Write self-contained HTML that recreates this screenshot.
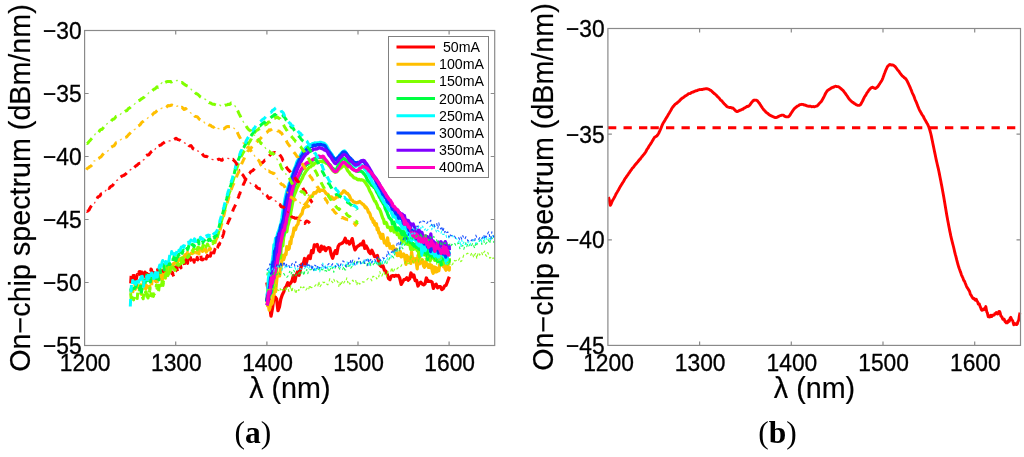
<!DOCTYPE html>
<html lang="en">
<head>
<meta charset="utf-8">
<title>On-chip spectrum</title>
<style>
html,body{margin:0;padding:0;background:#fff;}
body{width:1024px;height:457px;overflow:hidden;}
svg{display:block;}
</style>
</head>
<body>
<svg width="1024" height="457" viewBox="0 0 1024 457">
<defs>
<clipPath id="clipL"><rect x="84.6" y="30.5" width="410.1" height="315.0"/></clipPath>
<clipPath id="clipR"><rect x="607.9" y="28.5" width="413.6" height="316.9"/></clipPath>
</defs>
<rect width="1024" height="457" fill="#fff"/>
<g clip-path="url(#clipL)" fill="none" stroke-linejoin="round">
<path d="M266.8 282.4L268.2 290.2L269.6 303.9L271.0 316.1L272.4 308.7L273.8 298.2L275.2 297.0L276.6 299.0L278.0 310.7L279.4 306.9L280.8 299.1L282.2 295.0L283.6 292.1L285.0 288.1L286.4 286.2L287.8 282.7L289.2 285.2L290.6 282.9L292.0 281.0L293.4 275.7L294.8 281.5L296.2 274.8L297.6 271.6L299.0 275.2L300.4 270.0L301.8 264.1L303.2 264.2L304.6 258.5L306.0 264.1L307.4 258.9L308.8 255.9L310.2 258.6L311.6 250.6L313.0 252.6L314.4 244.8L315.8 245.9L317.2 244.4L318.6 250.2L320.0 251.5L321.4 246.1L322.8 249.0L324.2 247.1L325.6 250.6L327.0 248.4L328.4 247.6L329.8 248.0L331.2 254.4L332.6 258.2L334.0 253.8L335.4 250.6L336.8 253.6L338.2 246.3L339.6 244.2L341.0 243.7L342.4 243.0L343.8 241.6L345.2 238.3L346.6 242.7L348.0 241.2L349.4 244.1L350.8 241.9L352.2 238.6L353.6 245.1L355.0 249.9L356.4 247.6L357.8 246.1L359.2 245.4L360.6 243.9L362.0 244.7L363.4 241.1L364.8 248.4L366.2 246.0L367.6 248.5L369.0 252.2L370.4 253.6L371.8 250.3L373.2 253.3L374.6 256.5L376.0 256.7L377.4 255.5L378.8 262.8L380.2 265.5L381.6 266.6L383.0 266.0L384.4 270.3L385.8 271.2L387.2 274.3L388.6 278.6L390.0 279.5L391.4 276.0L392.8 275.6L394.2 276.3L395.6 275.3L397.0 275.9L398.4 275.5L399.8 278.3L401.2 284.4L402.6 282.0L404.0 279.6L405.4 279.4L406.8 277.8L408.2 280.2L409.6 278.8L411.0 273.0L412.4 276.7L413.8 275.0L415.2 280.6L416.6 280.4L418.0 286.0L419.4 283.1L420.8 282.3L422.2 284.1L423.6 284.8L425.0 283.8L426.4 278.0L427.8 281.4L429.2 281.1L430.6 281.3L432.0 281.9L433.4 288.4L434.8 285.0L436.2 284.3L437.6 287.8L439.0 286.6L440.4 286.7L441.8 289.5L443.2 288.6L444.6 286.0L446.0 285.3L447.4 281.9L448.8 278.0L449.4 276.7" stroke="#ff0000" stroke-width="3.3"/>
<path d="M266.8 298.0L267.6 305.8L268.4 305.2L269.2 310.1L270.0 307.6L270.8 301.7L271.6 304.1L272.4 302.6L273.2 295.5L274.0 294.3L274.8 285.8L275.6 291.6L276.4 283.3L277.2 275.4L278.0 273.2L278.8 275.7L279.6 275.9L280.4 268.6L281.2 266.6L282.0 258.6L282.8 255.5L283.6 259.7L284.4 257.3L285.2 253.9L286.0 254.5L286.8 246.7L287.6 247.2L288.4 249.4L289.2 248.5L290.0 241.6L290.8 243.7L291.6 236.9L292.4 236.9L293.2 233.4L294.0 228.2L294.8 230.1L295.6 229.4L296.4 226.2L297.2 225.0L298.0 224.0L298.8 218.4L299.6 216.6L300.4 215.8L301.2 214.1L302.0 214.0L302.8 209.9L303.6 208.0L304.4 207.2L305.2 207.3L306.0 204.1L306.8 202.4L307.6 201.5L308.4 200.1L309.2 198.6L310.0 197.5L310.8 196.1L311.6 196.1L312.4 196.0L313.2 194.1L314.0 192.6L314.8 192.9L315.6 193.1L316.4 192.1L317.2 190.9L318.0 190.0L318.8 190.8L319.6 191.2L320.4 190.2L321.2 190.1L322.0 190.2L322.8 190.4L323.6 190.3L324.4 191.0L325.2 192.1L326.0 193.4L326.8 194.0L327.6 194.1L328.4 195.4L329.2 196.8L330.0 197.1L330.8 196.8L331.6 196.9L332.4 197.7L333.2 198.9L334.0 199.3L334.8 198.6L335.6 198.1L336.4 196.7L337.2 196.4L338.0 197.0L338.8 196.1L339.6 194.8L340.4 194.5L341.2 193.7L342.0 193.0L342.8 192.3L343.6 190.9L344.4 191.0L345.2 191.7L346.0 192.8L346.8 193.4L347.6 193.5L348.4 194.6L349.2 195.4L350.0 197.1L350.8 199.7L351.6 200.0L352.4 200.3L353.2 201.6L354.0 202.1L354.8 202.1L355.6 202.7L356.4 202.8L357.2 202.5L358.0 202.5L358.8 202.1L359.6 201.4L360.4 202.4L361.2 202.9L362.0 203.6L362.8 204.5L363.6 204.6L364.4 205.9L365.2 207.7L366.0 207.0L366.8 208.4L367.6 209.5L368.4 212.2L369.2 212.5L370.0 214.0L370.8 217.2L371.6 219.0L372.4 218.8L373.2 222.3L374.0 220.9L374.8 224.8L375.6 225.5L376.4 223.7L377.2 229.9L378.0 228.0L378.8 233.1L379.6 232.6L380.4 236.7L381.2 238.2L382.0 234.3L382.8 234.3L383.6 239.2L384.4 243.0L385.2 241.1L386.0 241.8L386.8 245.5L387.6 238.0L388.4 244.8L389.2 243.5L390.0 248.2L390.8 247.2L391.6 246.8L392.4 249.0L393.2 246.2L394.0 251.3L394.8 249.2L395.6 249.1L396.4 249.2L397.2 255.6L398.0 253.7L398.8 255.2L399.6 254.8L400.4 251.7L401.2 256.9L402.0 256.2L402.8 255.8L403.6 254.0L404.4 255.1L405.2 259.8L406.0 264.3L406.8 255.5L407.6 259.2L408.4 257.0L409.2 261.1L410.0 260.5L410.8 263.4L411.6 251.9L412.4 258.2L413.2 258.2L414.0 261.8L414.8 259.6L415.6 258.7L416.4 263.2L417.2 268.8L418.0 255.4L418.8 262.5L419.6 263.8L420.4 263.1L421.2 262.9L422.0 259.7L422.8 260.6L423.6 265.9L424.4 267.3L425.2 264.2L426.0 261.7L426.8 265.2L427.6 264.2L428.4 267.4L429.2 267.3L430.0 264.7L430.8 267.7L431.6 265.2L432.4 271.3L433.2 273.3L434.0 266.9L434.8 271.9L435.6 267.3L436.4 271.9L437.2 271.4L438.0 268.3L438.8 270.7L439.6 265.0L440.4 263.3L441.2 262.5L442.0 264.2L442.8 265.4L443.6 266.8L444.4 264.2L445.2 268.9L446.0 270.2L446.8 266.9L447.6 263.2L448.4 268.5L449.2 270.1L449.4 266.1" stroke="#ffbf00" stroke-width="3.3"/>
<path d="M266.8 300.2L267.6 295.6L268.4 301.4L269.2 294.2L270.0 296.6L270.8 293.1L271.6 285.3L272.4 282.7L273.2 284.0L274.0 278.8L274.8 275.6L275.6 266.8L276.4 271.1L277.2 262.6L278.0 255.5L278.8 256.8L279.6 256.5L280.4 258.1L281.2 247.6L282.0 241.6L282.8 245.9L283.6 237.8L284.4 234.2L285.2 230.6L286.0 229.4L286.8 231.8L287.6 226.6L288.4 223.8L289.2 220.5L290.0 219.0L290.8 212.3L291.6 208.3L292.4 203.7L293.2 199.5L294.0 196.0L294.8 193.8L295.6 191.8L296.4 189.7L297.2 187.8L298.0 186.3L298.8 184.6L299.6 182.9L300.4 181.6L301.2 179.9L302.0 178.8L302.8 177.0L303.6 175.0L304.4 173.9L305.2 172.5L306.0 171.1L306.8 170.2L307.6 169.4L308.4 168.3L309.2 167.3L310.0 167.0L310.8 166.8L311.6 165.6L312.4 165.0L313.2 165.1L314.0 164.1L314.8 163.1L315.6 163.0L316.4 162.8L317.2 162.3L318.0 162.3L318.8 161.8L319.6 161.4L320.4 161.4L321.2 161.4L322.0 161.6L322.8 161.8L323.6 161.6L324.4 161.4L325.2 162.3L326.0 163.1L326.8 163.3L327.6 163.7L328.4 164.6L329.2 165.7L330.0 166.6L330.8 167.7L331.6 168.8L332.4 170.2L333.2 170.8L334.0 171.3L334.8 172.1L335.6 172.3L336.4 172.0L337.2 171.5L338.0 170.5L338.8 169.7L339.6 168.8L340.4 168.1L341.2 167.9L342.0 166.8L342.8 166.1L343.6 166.0L344.4 165.8L345.2 166.2L346.0 167.3L346.8 168.8L347.6 170.5L348.4 171.5L349.2 172.4L350.0 173.7L350.8 174.9L351.6 175.1L352.4 175.9L353.2 177.0L354.0 177.7L354.8 178.1L355.6 178.1L356.4 178.6L357.2 179.5L358.0 179.8L358.8 179.3L359.6 179.7L360.4 180.0L361.2 179.7L362.0 180.0L362.8 180.1L363.6 180.6L364.4 181.4L365.2 182.4L366.0 183.6L366.8 184.9L367.6 185.9L368.4 187.4L369.2 189.5L370.0 191.3L370.8 192.6L371.6 194.2L372.4 196.0L373.2 197.8L374.0 199.7L374.8 201.2L375.6 201.6L376.4 203.6L377.2 205.0L378.0 208.1L378.8 208.4L379.6 209.3L380.4 211.1L381.2 213.6L382.0 216.0L382.8 218.3L383.6 219.4L384.4 223.3L385.2 223.0L386.0 222.4L386.8 223.8L387.6 227.2L388.4 226.9L389.2 227.4L390.0 228.4L390.8 230.7L391.6 227.1L392.4 228.4L393.2 227.3L394.0 232.1L394.8 230.8L395.6 230.7L396.4 231.4L397.2 234.6L398.0 233.9L398.8 233.8L399.6 237.9L400.4 234.1L401.2 234.5L402.0 243.4L402.8 238.2L403.6 238.3L404.4 238.1L405.2 239.9L406.0 242.8L406.8 244.0L407.6 244.3L408.4 242.7L409.2 240.0L410.0 245.5L410.8 249.3L411.6 248.9L412.4 246.2L413.2 249.4L414.0 247.4L414.8 248.7L415.6 245.7L416.4 248.6L417.2 250.6L418.0 250.4L418.8 253.5L419.6 257.0L420.4 256.0L421.2 252.1L422.0 250.7L422.8 250.7L423.6 250.1L424.4 253.6L425.2 255.0L426.0 254.8L426.8 255.6L427.6 255.5L428.4 254.7L429.2 253.2L430.0 261.0L430.8 259.2L431.6 253.4L432.4 253.7L433.2 254.6L434.0 256.8L434.8 260.3L435.6 259.4L436.4 260.1L437.2 260.7L438.0 260.9L438.8 260.2L439.6 259.5L440.4 258.0L441.2 253.8L442.0 258.3L442.8 264.3L443.6 257.9L444.4 257.9L445.2 262.0L446.0 259.4L446.8 258.4L447.6 264.1L448.4 261.5L449.2 262.1L449.4 258.1" stroke="#80ff00" stroke-width="3.3"/>
<path d="M266.8 300.5L267.6 301.9L268.4 294.2L269.2 295.0L270.0 289.7L270.8 288.6L271.6 292.3L272.4 284.6L273.2 278.8L274.0 277.6L274.8 271.8L275.6 271.2L276.4 268.9L277.2 265.6L278.0 261.7L278.8 255.7L279.6 253.9L280.4 250.1L281.2 240.7L282.0 238.7L282.8 236.2L283.6 235.2L284.4 231.8L285.2 226.6L286.0 224.9L286.8 219.0L287.6 216.0L288.4 213.3L289.2 209.6L290.0 205.4L290.8 200.7L291.6 196.8L292.4 193.1L293.2 190.1L294.0 187.7L294.8 185.4L295.6 183.7L296.4 182.1L297.2 180.4L298.0 178.5L298.8 176.5L299.6 175.2L300.4 173.5L301.2 171.3L302.0 169.8L302.8 168.7L303.6 167.9L304.4 167.1L305.2 166.2L306.0 164.9L306.8 164.3L307.6 164.3L308.4 163.7L309.2 162.9L310.0 162.4L310.8 162.3L311.6 161.6L312.4 160.4L313.2 159.8L314.0 159.5L314.8 158.8L315.6 158.5L316.4 158.3L317.2 157.8L318.0 157.7L318.8 157.2L319.6 157.4L320.4 157.2L321.2 156.8L322.0 157.3L322.8 158.1L323.6 158.6L324.4 158.9L325.2 159.9L326.0 161.1L326.8 162.2L327.6 162.9L328.4 163.5L329.2 164.3L330.0 164.9L330.8 166.0L331.6 167.4L332.4 168.1L333.2 168.6L334.0 169.2L334.8 170.0L335.6 170.0L336.4 169.1L337.2 167.7L338.0 166.1L338.8 164.6L339.6 162.8L340.4 161.8L341.2 161.1L342.0 159.4L342.8 158.3L343.6 158.5L344.4 158.8L345.2 159.6L346.0 160.2L346.8 161.2L347.6 162.8L348.4 163.3L349.2 163.9L350.0 165.4L350.8 166.3L351.6 166.8L352.4 167.5L353.2 168.5L354.0 169.5L354.8 170.4L355.6 170.6L356.4 171.0L357.2 171.3L358.0 171.3L358.8 171.2L359.6 170.8L360.4 171.0L361.2 171.4L362.0 171.7L362.8 172.5L363.6 173.5L364.4 174.3L365.2 175.3L366.0 176.7L366.8 178.5L367.6 180.3L368.4 181.2L369.2 181.9L370.0 182.8L370.8 183.9L371.6 185.3L372.4 185.5L373.2 186.2L374.0 187.5L374.8 187.8L375.6 189.2L376.4 191.1L377.2 192.6L378.0 193.8L378.8 195.6L379.6 197.3L380.4 198.2L381.2 200.3L382.0 201.4L382.8 202.8L383.6 204.2L384.4 205.0L385.2 208.3L386.0 210.2L386.8 211.6L387.6 213.8L388.4 215.8L389.2 218.0L390.0 218.3L390.8 219.5L391.6 220.0L392.4 223.9L393.2 222.5L394.0 222.2L394.8 225.3L395.6 227.7L396.4 229.8L397.2 230.1L398.0 227.9L398.8 228.9L399.6 230.7L400.4 229.4L401.2 232.3L402.0 234.5L402.8 234.5L403.6 231.5L404.4 232.6L405.2 239.1L406.0 235.1L406.8 239.6L407.6 240.7L408.4 239.4L409.2 238.6L410.0 242.2L410.8 240.5L411.6 242.8L412.4 244.2L413.2 243.7L414.0 246.0L414.8 246.1L415.6 244.3L416.4 247.4L417.2 246.8L418.0 244.2L418.8 248.9L419.6 249.3L420.4 248.1L421.2 244.4L422.0 253.4L422.8 254.2L423.6 254.5L424.4 253.1L425.2 248.6L426.0 252.9L426.8 250.2L427.6 259.6L428.4 251.6L429.2 255.7L430.0 249.8L430.8 251.0L431.6 253.2L432.4 257.7L433.2 257.4L434.0 256.3L434.8 250.3L435.6 259.1L436.4 253.1L437.2 261.1L438.0 261.7L438.8 258.9L439.6 260.1L440.4 253.3L441.2 264.8L442.0 258.1L442.8 260.1L443.6 254.7L444.4 257.3L445.2 253.5L446.0 256.5L446.8 257.5L447.6 258.6L448.4 262.1L449.2 259.6L449.4 259.1" stroke="#00ff40" stroke-width="3.3"/>
<path d="M266.8 295.9L267.6 292.7L268.4 279.6L269.2 273.8L270.0 273.0L270.8 272.2L271.6 265.7L272.4 260.5L273.2 255.0L274.0 244.7L274.8 245.9L275.6 238.4L276.4 240.9L277.2 235.7L278.0 232.4L278.8 230.6L279.6 227.9L280.4 225.1L281.2 222.4L282.0 217.7L282.8 212.1L283.6 207.9L284.4 203.0L285.2 198.4L286.0 194.8L286.8 191.5L287.6 188.7L288.4 186.2L289.2 183.6L290.0 181.9L290.8 179.6L291.6 176.8L292.4 174.7L293.2 172.3L294.0 169.9L294.8 168.0L295.6 166.4L296.4 163.6L297.2 161.4L298.0 160.2L298.8 158.3L299.6 157.0L300.4 155.5L301.2 154.0L302.0 152.8L302.8 151.4L303.6 150.6L304.4 149.6L305.2 148.6L306.0 147.7L306.8 146.9L307.6 146.6L308.4 146.4L309.2 145.5L310.0 144.6L310.8 145.0L311.6 144.8L312.4 143.7L313.2 143.6L314.0 143.4L314.8 142.9L315.6 143.1L316.4 143.3L317.2 142.9L318.0 142.9L318.8 142.8L319.6 142.5L320.4 142.5L321.2 142.5L322.0 142.8L322.8 143.1L323.6 143.2L324.4 143.6L325.2 144.4L326.0 145.1L326.8 146.3L327.6 147.9L328.4 149.3L329.2 150.6L330.0 152.2L330.8 153.1L331.6 154.0L332.4 155.2L333.2 156.7L334.0 158.2L334.8 159.3L335.6 159.0L336.4 158.6L337.2 158.5L338.0 157.9L338.8 156.7L339.6 155.3L340.4 154.2L341.2 153.2L342.0 152.5L342.8 151.7L343.6 151.3L344.4 150.9L345.2 151.5L346.0 153.1L346.8 154.8L347.6 156.4L348.4 158.0L349.2 159.5L350.0 160.1L350.8 160.9L351.6 162.2L352.4 163.1L353.2 164.3L354.0 165.2L354.8 165.9L355.6 166.5L356.4 166.1L357.2 165.4L358.0 165.0L358.8 164.9L359.6 165.1L360.4 165.0L361.2 165.2L362.0 165.5L362.8 166.2L363.6 167.4L364.4 168.7L365.2 169.7L366.0 170.4L366.8 171.5L367.6 173.2L368.4 174.7L369.2 175.8L370.0 177.4L370.8 178.9L371.6 180.6L372.4 182.6L373.2 183.8L374.0 184.8L374.8 185.9L375.6 187.2L376.4 188.8L377.2 189.9L378.0 191.0L378.8 193.0L379.6 194.4L380.4 195.1L381.2 196.7L382.0 198.4L382.8 200.0L383.6 201.5L384.4 203.0L385.2 203.2L386.0 205.3L386.8 205.9L387.6 207.3L388.4 209.0L389.2 209.7L390.0 210.6L390.8 210.8L391.6 213.0L392.4 214.9L393.2 216.9L394.0 215.5L394.8 215.8L395.6 217.8L396.4 218.2L397.2 221.8L398.0 220.1L398.8 222.7L399.6 221.8L400.4 223.9L401.2 225.4L402.0 228.1L402.8 225.9L403.6 228.5L404.4 225.2L405.2 227.3L406.0 228.2L406.8 229.7L407.6 232.7L408.4 234.1L409.2 231.0L410.0 236.6L410.8 234.0L411.6 240.7L412.4 238.4L413.2 238.8L414.0 238.8L414.8 239.7L415.6 240.4L416.4 239.7L417.2 244.2L418.0 243.9L418.8 245.7L419.6 244.0L420.4 246.1L421.2 243.5L422.0 255.1L422.8 244.3L423.6 245.0L424.4 249.0L425.2 250.5L426.0 246.5L426.8 244.7L427.6 245.0L428.4 246.4L429.2 247.5L430.0 249.5L430.8 253.1L431.6 253.3L432.4 248.8L433.2 252.8L434.0 254.2L434.8 256.1L435.6 251.6L436.4 250.1L437.2 254.9L438.0 257.2L438.8 251.8L439.6 259.2L440.4 258.6L441.2 253.2L442.0 249.7L442.8 252.8L443.6 253.9L444.4 256.7L445.2 249.9L446.0 262.8L446.8 262.8L447.6 253.4L448.4 249.9L449.2 254.6L449.4 256.4" stroke="#00ffff" stroke-width="3.3"/>
<path d="M266.6 301.4L267.4 296.2L268.2 294.7L269.0 290.4L269.8 285.5L270.6 278.2L271.4 274.3L272.2 268.7L273.0 262.0L273.8 263.8L274.6 251.1L275.4 250.0L276.2 246.5L277.0 237.3L277.8 239.9L278.6 234.0L279.4 232.4L280.2 228.9L281.0 224.8L281.8 224.6L282.6 221.4L283.4 218.7L284.2 212.4L285.0 205.1L285.8 201.2L286.6 197.3L287.4 193.8L288.2 190.7L289.0 188.0L289.8 185.3L290.6 182.3L291.4 179.9L292.2 177.8L293.0 175.3L293.8 172.7L294.6 170.4L295.4 168.6L296.2 167.0L297.0 165.2L297.8 163.1L298.6 161.3L299.4 159.5L300.2 157.9L301.0 156.9L301.8 155.8L302.6 154.6L303.4 153.1L304.2 151.9L305.0 150.9L305.8 150.2L306.6 149.6L307.4 148.4L308.2 147.8L309.0 147.7L309.8 146.8L310.6 146.0L311.4 146.3L312.2 146.3L313.0 145.8L313.8 145.1L314.6 145.2L315.4 145.6L316.2 145.3L317.0 144.7L317.8 144.6L318.6 145.0L319.4 144.8L320.2 144.5L321.0 144.6L321.8 144.9L322.6 145.1L323.4 145.2L324.2 145.4L325.0 145.7L325.8 147.1L326.6 148.8L327.4 149.9L328.2 151.0L329.0 151.8L329.8 152.6L330.6 153.9L331.4 155.0L332.2 156.5L333.0 157.5L333.8 158.0L334.6 158.9L335.4 159.3L336.2 159.4L337.0 158.5L337.8 157.6L338.6 157.2L339.4 156.0L340.2 155.3L341.0 154.9L341.8 153.7L342.6 152.5L343.4 152.1L344.2 152.0L345.0 152.3L345.8 152.8L346.6 153.9L347.4 154.9L348.2 156.0L349.0 157.2L349.8 157.7L350.6 158.4L351.4 159.4L352.2 160.1L353.0 161.1L353.8 161.9L354.6 162.4L355.4 162.6L356.2 163.0L357.0 163.0L357.8 162.3L358.6 162.5L359.4 162.5L360.2 161.8L361.0 161.0L361.8 161.1L362.6 161.4L363.4 161.7L364.2 162.1L365.0 163.1L365.8 164.8L366.6 165.4L367.4 166.2L368.2 167.8L369.0 169.5L369.8 170.6L370.6 171.8L371.4 173.6L372.2 174.8L373.0 176.4L373.8 177.5L374.6 178.5L375.4 180.1L376.2 182.0L377.0 183.5L377.8 184.6L378.6 186.2L379.4 187.6L380.2 188.8L381.0 190.2L381.8 191.8L382.6 193.9L383.4 194.9L384.2 195.7L385.0 197.3L385.8 198.1L386.6 199.8L387.4 201.8L388.2 202.5L389.0 203.6L389.8 203.9L390.6 205.2L391.4 206.9L392.2 209.0L393.0 209.5L393.8 208.8L394.6 211.2L395.4 213.0L396.2 214.0L397.0 213.1L397.8 214.9L398.6 218.2L399.4 215.9L400.2 218.3L401.0 218.3L401.8 218.4L402.6 220.5L403.4 223.2L404.2 223.9L405.0 222.2L405.8 223.9L406.6 224.1L407.4 223.1L408.2 228.1L409.0 230.4L409.8 230.7L410.6 228.1L411.4 232.6L412.2 233.0L413.0 230.7L413.8 232.2L414.6 232.8L415.4 235.2L416.2 238.9L417.0 234.2L417.8 234.6L418.6 239.7L419.4 238.7L420.2 234.7L421.0 237.0L421.8 238.1L422.6 239.2L423.4 242.0L424.2 244.0L425.0 242.0L425.8 243.3L426.6 241.7L427.4 246.5L428.2 247.7L429.0 244.4L429.8 244.0L430.6 251.6L431.4 249.1L432.2 244.6L433.0 242.9L433.8 247.0L434.6 250.9L435.4 246.4L436.2 248.3L437.0 248.3L437.8 250.8L438.6 253.1L439.4 246.9L440.2 249.6L441.0 250.6L441.8 250.3L442.6 248.6L443.4 254.2L444.2 252.5L445.0 254.6L445.8 257.1L446.6 251.6L447.4 254.3L448.2 252.0L449.0 253.1L449.4 254.1" stroke="#0040ff" stroke-width="3.3"/>
<path d="M266.8 305.3L267.6 303.2L268.4 299.7L269.2 290.7L270.0 294.0L270.8 290.2L271.6 279.4L272.4 278.9L273.2 271.8L274.0 267.9L274.8 267.5L275.6 261.8L276.4 261.1L277.2 250.6L278.0 243.7L278.8 242.9L279.6 233.3L280.4 238.4L281.2 232.9L282.0 230.6L282.8 227.4L283.6 223.4L284.4 221.5L285.2 217.0L286.0 212.5L286.8 207.7L287.6 201.8L288.4 198.7L289.2 194.9L290.0 191.4L290.8 188.2L291.6 185.6L292.4 182.9L293.2 180.4L294.0 177.9L294.8 175.6L295.6 174.0L296.4 172.2L297.2 169.6L298.0 167.7L298.8 166.3L299.6 164.3L300.4 162.7L301.2 161.3L302.0 159.7L302.8 158.6L303.6 157.2L304.4 156.2L305.2 155.3L306.0 154.2L306.8 153.8L307.6 153.3L308.4 152.3L309.2 151.7L310.0 151.3L310.8 150.6L311.6 150.3L312.4 150.3L313.2 149.5L314.0 149.0L314.8 149.2L315.6 148.9L316.4 149.0L317.2 148.8L318.0 148.3L318.8 147.8L319.6 147.7L320.4 148.2L321.2 148.3L322.0 148.6L322.8 148.6L323.6 149.4L324.4 150.1L325.2 150.0L326.0 150.7L326.8 151.2L327.6 152.1L328.4 154.1L329.2 155.3L330.0 156.2L330.8 157.2L331.6 158.5L332.4 160.0L333.2 161.0L334.0 162.2L334.8 163.3L335.6 163.6L336.4 162.6L337.2 161.8L338.0 161.3L338.8 159.8L339.6 158.3L340.4 157.6L341.2 157.0L342.0 156.1L342.8 155.2L343.6 154.7L344.4 154.7L345.2 154.8L346.0 155.6L346.8 156.5L347.6 157.2L348.4 158.4L349.2 159.9L350.0 161.2L350.8 161.3L351.6 161.4L352.4 162.5L353.2 163.4L354.0 164.0L354.8 164.5L355.6 165.2L356.4 165.0L357.2 164.5L358.0 164.4L358.8 163.9L359.6 162.4L360.4 162.1L361.2 161.7L362.0 160.7L362.8 160.5L363.6 160.4L364.4 160.8L365.2 162.0L366.0 163.1L366.8 164.0L367.6 165.3L368.4 166.8L369.2 167.8L370.0 169.2L370.8 170.7L371.6 172.0L372.4 173.7L373.2 174.9L374.0 176.0L374.8 177.1L375.6 178.1L376.4 179.1L377.2 180.5L378.0 182.1L378.8 182.9L379.6 184.3L380.4 186.5L381.2 187.8L382.0 189.0L382.8 190.2L383.6 191.0L384.4 192.3L385.2 193.7L386.0 194.8L386.8 196.4L387.6 197.7L388.4 198.9L389.2 200.3L390.0 200.7L390.8 202.9L391.6 205.3L392.4 205.0L393.2 206.4L394.0 207.3L394.8 209.7L395.6 209.3L396.4 209.1L397.2 210.1L398.0 211.1L398.8 212.0L399.6 212.4L400.4 215.2L401.2 214.2L402.0 213.9L402.8 214.7L403.6 217.4L404.4 215.6L405.2 219.3L406.0 219.9L406.8 221.4L407.6 220.3L408.4 220.5L409.2 222.7L410.0 223.2L410.8 225.5L411.6 224.3L412.4 224.3L413.2 224.0L414.0 226.4L414.8 227.7L415.6 230.9L416.4 229.7L417.2 232.2L418.0 232.7L418.8 230.1L419.6 230.7L420.4 232.3L421.2 233.3L422.0 232.6L422.8 236.3L423.6 237.3L424.4 238.8L425.2 237.3L426.0 236.3L426.8 238.8L427.6 236.8L428.4 239.5L429.2 237.7L430.0 242.3L430.8 233.9L431.6 242.0L432.4 242.6L433.2 241.0L434.0 242.4L434.8 242.6L435.6 245.7L436.4 247.1L437.2 243.5L438.0 247.4L438.8 242.1L439.6 244.7L440.4 245.4L441.2 241.8L442.0 245.6L442.8 244.0L443.6 247.9L444.4 243.4L445.2 241.6L446.0 243.2L446.8 246.9L447.6 248.2L448.4 248.7L449.2 246.0L449.4 250.2" stroke="#8000ff" stroke-width="3.3"/>
<path d="M266.8 305.0L267.6 303.5L268.4 292.0L269.2 293.7L270.0 291.7L270.8 282.7L271.6 276.5L272.4 283.3L273.2 276.9L274.0 278.4L274.8 273.4L275.6 270.0L276.4 265.6L277.2 263.7L278.0 257.0L278.8 254.2L279.6 252.8L280.4 244.2L281.2 241.4L282.0 236.8L282.8 233.2L283.6 229.9L284.4 230.3L285.2 224.6L286.0 223.5L286.8 217.5L287.6 215.2L288.4 210.7L289.2 206.5L290.0 202.1L290.8 197.7L291.6 193.3L292.4 190.3L293.2 187.4L294.0 184.6L294.8 182.8L295.6 181.4L296.4 179.4L297.2 177.5L298.0 176.1L298.8 174.7L299.6 172.9L300.4 171.0L301.2 169.5L302.0 168.3L302.8 167.4L303.6 166.1L304.4 165.2L305.2 164.3L306.0 163.5L306.8 163.0L307.6 162.3L308.4 162.2L309.2 162.3L310.0 161.6L310.8 160.6L311.6 160.0L312.4 159.7L313.2 159.3L314.0 158.9L314.8 158.8L315.6 158.3L316.4 157.5L317.2 157.2L318.0 156.9L318.8 156.0L319.6 156.3L320.4 157.0L321.2 157.0L322.0 156.7L322.8 156.1L323.6 156.6L324.4 158.2L325.2 159.1L326.0 160.2L326.8 161.1L327.6 162.0L328.4 163.4L329.2 164.5L330.0 165.3L330.8 166.4L331.6 167.9L332.4 169.2L333.2 170.1L334.0 171.1L334.8 171.7L335.6 171.7L336.4 171.4L337.2 170.5L338.0 169.2L338.8 168.0L339.6 167.0L340.4 165.5L341.2 164.2L342.0 163.6L342.8 162.5L343.6 162.2L344.4 162.5L345.2 163.0L346.0 164.0L346.8 164.7L347.6 165.5L348.4 166.5L349.2 166.4L350.0 166.2L350.8 167.5L351.6 168.5L352.4 169.1L353.2 169.6L354.0 170.1L354.8 170.5L355.6 170.8L356.4 171.1L357.2 170.5L358.0 170.0L358.8 169.7L359.6 168.3L360.4 167.9L361.2 167.9L362.0 167.1L362.8 166.2L363.6 166.7L364.4 166.9L365.2 167.1L366.0 168.0L366.8 168.1L367.6 168.8L368.4 170.1L369.2 171.1L370.0 171.8L370.8 172.4L371.6 173.5L372.4 174.3L373.2 175.6L374.0 176.9L374.8 177.9L375.6 178.9L376.4 179.9L377.2 180.8L378.0 181.6L378.8 183.3L379.6 184.7L380.4 185.7L381.2 187.0L382.0 188.0L382.8 189.3L383.6 191.1L384.4 192.2L385.2 193.1L386.0 194.9L386.8 196.6L387.6 196.9L388.4 198.1L389.2 199.5L390.0 199.9L390.8 201.1L391.6 202.4L392.4 203.6L393.2 206.4L394.0 206.5L394.8 207.0L395.6 208.3L396.4 209.2L397.2 209.5L398.0 210.2L398.8 212.7L399.6 212.7L400.4 213.7L401.2 214.7L402.0 215.8L402.8 218.3L403.6 218.5L404.4 224.1L405.2 220.9L406.0 224.1L406.8 223.5L407.6 224.3L408.4 227.1L409.2 227.2L410.0 228.1L410.8 230.0L411.6 232.3L412.4 234.9L413.2 236.3L414.0 233.1L414.8 236.9L415.6 237.7L416.4 234.0L417.2 234.9L418.0 235.9L418.8 241.0L419.6 237.2L420.4 237.5L421.2 241.9L422.0 238.9L422.8 239.7L423.6 242.3L424.4 241.5L425.2 235.9L426.0 239.5L426.8 244.5L427.6 240.0L428.4 247.3L429.2 244.6L430.0 245.6L430.8 245.9L431.6 241.0L432.4 244.4L433.2 243.7L434.0 247.3L434.8 251.3L435.6 247.4L436.4 248.3L437.2 243.4L438.0 248.2L438.8 248.6L439.6 248.9L440.4 251.2L441.2 253.5L442.0 249.9L442.8 251.5L443.6 246.5L444.4 253.2L445.2 252.4L446.0 247.4L446.8 253.5L447.6 250.7L448.4 255.2L449.2 254.1L449.4 253.6" stroke="#ff00bf" stroke-width="3.3"/>
<path d="M266.8 291.7L267.8 287.7L268.8 289.8L269.8 289.6L270.8 288.0L271.8 289.3L272.8 288.6L273.8 290.9L274.8 286.1L275.8 283.8L276.8 288.6L277.8 290.2L278.8 290.6L279.8 287.7L280.8 289.9L281.8 287.8L282.8 290.5L283.8 287.9L284.8 287.4L285.8 291.3L286.8 287.3L287.8 287.0L288.8 291.4L289.8 290.1L290.8 285.6L291.8 292.3L292.8 287.8L293.8 289.3L294.8 289.9L295.8 293.9L296.8 290.0L297.8 291.6L298.8 289.5L299.8 290.6L300.8 286.7L301.8 289.2L302.8 287.8L303.8 286.8L304.8 289.0L305.8 290.2L306.8 288.8L307.8 287.1L308.8 288.8L309.8 285.0L310.8 287.5L311.8 287.6L312.8 286.2L313.8 285.7L314.8 286.2L315.8 284.7L316.8 285.1L317.8 286.6L318.8 281.3L319.8 287.1L320.8 285.3L321.8 284.6L322.8 282.0L323.8 282.8L324.8 282.2L325.8 284.4L326.8 284.1L327.8 284.9L328.8 282.7L329.8 278.6L330.8 280.4L331.8 281.5L332.8 282.7L333.8 279.2L334.8 281.7L335.8 282.2L336.8 280.9L337.8 281.7L338.8 286.4L339.8 282.0L340.8 285.8L341.8 282.5L342.8 280.7L343.8 283.1L344.8 281.3L345.8 281.9L346.8 277.8L347.8 282.7L348.8 280.9L349.8 284.2L350.8 282.2L351.8 281.3L352.8 280.1L353.8 282.1L354.8 281.3L355.8 280.5L356.8 285.4L357.8 281.4L358.8 283.2L359.8 284.2L360.8 281.9L361.8 282.2L362.8 281.7L363.8 282.3L364.8 281.3L365.8 280.9L366.8 280.0L367.8 278.5L368.8 278.3L369.8 277.7L370.8 279.0L371.8 280.8L372.8 276.3L373.8 276.6L374.8 275.7L375.8 277.1L376.8 278.9L377.8 276.0L378.8 276.9L379.8 271.6L380.8 275.3L381.8 276.2L382.8 273.7L383.8 271.4L384.8 274.9L385.8 273.5L386.8 276.6L387.8 271.6L388.8 271.9L389.8 270.9L390.8 271.3L391.8 267.2L392.8 272.6L393.8 270.7L394.8 268.6L395.8 267.8L396.8 269.0L397.8 268.2L398.8 266.2L399.8 266.2L400.8 266.6L401.8 264.7L402.8 264.4L403.8 263.7L404.8 263.4L405.8 261.2L406.8 261.4L407.8 263.4L408.8 263.8L409.8 261.8L410.8 254.7L411.8 258.3L412.8 261.5L413.8 263.5L414.8 262.3L415.8 259.4L416.8 258.8L417.8 258.4L418.8 262.2L419.8 259.2L420.8 256.8L421.8 260.1L422.8 259.7L423.8 254.3L424.8 256.8L425.8 259.9L426.8 259.8L427.8 255.9L428.8 258.4L429.8 260.2L430.8 259.4L431.8 257.0L432.8 258.9L433.8 260.7L434.8 260.6L435.8 258.0L436.8 264.4L437.8 260.6L438.8 257.5L439.8 259.9L440.8 255.5L441.8 259.5L442.8 260.9L443.8 265.7L444.8 261.7L445.8 262.2L446.8 263.0L447.8 262.1L448.8 260.7L449.8 264.5L450.8 263.0L451.8 264.9L452.8 264.0L453.8 260.2L454.8 260.9L455.8 260.7L456.8 260.3L457.8 261.4L458.8 259.7L459.8 258.0L460.8 261.6L461.8 260.8L462.8 257.7L463.8 255.0L464.8 255.3L465.8 254.5L466.8 253.8L467.8 253.2L468.8 255.2L469.8 255.1L470.8 255.2L471.8 252.5L472.8 254.7L473.8 257.7L474.8 254.3L475.8 253.1L476.8 258.8L477.8 254.2L478.8 252.4L479.8 255.2L480.8 252.2L481.8 252.8L482.8 255.4L483.8 252.5L484.8 251.1L485.8 255.5L486.8 256.2L487.8 252.5L488.8 255.0L489.8 258.3L490.8 257.4L491.8 259.2L492.8 258.1L493.8 258.0L494.8 258.9L495.0 259.5" stroke="#80ff00" stroke-width="1.1" stroke-dasharray="3 2.6" opacity="0.9"/>
<path d="M266.8 275.4L267.8 270.1L268.8 271.5L269.8 275.0L270.8 276.2L271.8 273.7L272.8 274.9L273.8 272.8L274.8 272.2L275.8 275.0L276.8 274.5L277.8 273.6L278.8 272.1L279.8 274.6L280.8 274.3L281.8 273.9L282.8 274.0L283.8 273.5L284.8 275.1L285.8 274.8L286.8 277.2L287.8 276.4L288.8 273.6L289.8 271.3L290.8 274.7L291.8 272.3L292.8 276.1L293.8 270.4L294.8 272.2L295.8 275.7L296.8 272.8L297.8 274.0L298.8 273.7L299.8 271.4L300.8 273.8L301.8 270.5L302.8 271.3L303.8 275.7L304.8 271.3L305.8 272.2L306.8 269.4L307.8 273.7L308.8 269.4L309.8 269.7L310.8 269.8L311.8 269.0L312.8 268.1L313.8 270.0L314.8 269.6L315.8 270.2L316.8 268.5L317.8 268.5L318.8 269.5L319.8 270.0L320.8 268.2L321.8 269.8L322.8 269.4L323.8 271.7L324.8 270.8L325.8 270.5L326.8 271.4L327.8 268.3L328.8 271.9L329.8 269.7L330.8 268.3L331.8 269.9L332.8 267.1L333.8 272.3L334.8 269.4L335.8 266.1L336.8 266.7L337.8 267.7L338.8 267.5L339.8 269.3L340.8 270.0L341.8 270.1L342.8 269.1L343.8 266.3L344.8 269.9L345.8 269.9L346.8 263.8L347.8 266.1L348.8 266.2L349.8 265.1L350.8 268.2L351.8 266.8L352.8 265.7L353.8 263.1L354.8 261.2L355.8 263.0L356.8 262.9L357.8 262.5L358.8 260.0L359.8 260.9L360.8 262.8L361.8 264.2L362.8 262.5L363.8 263.1L364.8 263.3L365.8 263.4L366.8 265.7L367.8 262.0L368.8 263.9L369.8 261.0L370.8 265.7L371.8 264.8L372.8 265.3L373.8 263.7L374.8 263.3L375.8 261.1L376.8 264.1L377.8 266.0L378.8 258.4L379.8 266.7L380.8 261.9L381.8 264.0L382.8 261.2L383.8 261.9L384.8 263.1L385.8 260.6L386.8 263.6L387.8 259.6L388.8 260.0L389.8 257.0L390.8 256.5L391.8 255.9L392.8 256.7L393.8 258.0L394.8 254.0L395.8 250.7L396.8 251.0L397.8 248.8L398.8 251.3L399.8 249.6L400.8 246.7L401.8 247.1L402.8 248.7L403.8 246.9L404.8 244.1L405.8 245.7L406.8 244.0L407.8 241.3L408.8 241.7L409.8 243.8L410.8 237.5L411.8 240.6L412.8 237.8L413.8 238.8L414.8 237.8L415.8 237.1L416.8 235.9L417.8 235.9L418.8 236.9L419.8 236.4L420.8 232.8L421.8 236.5L422.8 238.2L423.8 237.7L424.8 236.7L425.8 233.3L426.8 238.1L427.8 238.6L428.8 240.5L429.8 236.3L430.8 238.0L431.8 237.8L432.8 238.6L433.8 236.3L434.8 239.1L435.8 239.6L436.8 240.1L437.8 244.2L438.8 240.6L439.8 241.3L440.8 244.7L441.8 242.0L442.8 245.6L443.8 244.6L444.8 242.9L445.8 243.0L446.8 244.8L447.8 244.3L448.8 245.1L449.8 244.0L450.8 246.4L451.8 244.2L452.8 244.7L453.8 245.4L454.8 243.6L455.8 245.5L456.8 245.8L457.8 243.6L458.8 243.0L459.8 248.7L460.8 245.9L461.8 246.2L462.8 245.3L463.8 249.3L464.8 245.8L465.8 242.7L466.8 246.7L467.8 243.7L468.8 246.0L469.8 244.6L470.8 246.9L471.8 245.1L472.8 243.1L473.8 246.2L474.8 248.3L475.8 242.0L476.8 244.7L477.8 243.2L478.8 243.2L479.8 239.9L480.8 240.2L481.8 244.5L482.8 242.0L483.8 240.6L484.8 244.8L485.8 243.6L486.8 242.6L487.8 239.3L488.8 241.0L489.8 243.6L490.8 237.0L491.8 237.7L492.8 239.1L493.8 242.4L494.8 240.9L495.0 241.4" stroke="#00ff40" stroke-width="1.1" stroke-dasharray="3 2.6" opacity="0.9"/>
<path d="M266.8 270.4L267.8 270.0L268.8 271.8L269.8 276.0L270.8 269.9L271.8 271.3L272.8 267.8L273.8 271.4L274.8 268.3L275.8 268.3L276.8 266.9L277.8 266.2L278.8 266.4L279.8 265.5L280.8 264.8L281.8 270.6L282.8 267.9L283.8 268.9L284.8 268.0L285.8 264.4L286.8 267.1L287.8 265.4L288.8 265.5L289.8 266.9L290.8 267.4L291.8 267.3L292.8 267.4L293.8 266.6L294.8 267.2L295.8 269.5L296.8 271.3L297.8 269.4L298.8 266.8L299.8 268.0L300.8 269.1L301.8 269.2L302.8 269.7L303.8 269.7L304.8 268.2L305.8 266.9L306.8 264.5L307.8 269.5L308.8 268.6L309.8 265.9L310.8 267.5L311.8 266.8L312.8 266.7L313.8 270.8L314.8 266.8L315.8 272.1L316.8 267.2L317.8 266.1L318.8 267.7L319.8 272.0L320.8 267.1L321.8 268.3L322.8 263.1L323.8 268.4L324.8 264.7L325.8 267.0L326.8 269.7L327.8 266.6L328.8 268.4L329.8 266.6L330.8 266.3L331.8 267.4L332.8 268.9L333.8 266.9L334.8 266.6L335.8 264.8L336.8 263.3L337.8 266.7L338.8 266.0L339.8 266.8L340.8 268.2L341.8 267.7L342.8 264.4L343.8 266.5L344.8 266.4L345.8 265.3L346.8 261.3L347.8 263.8L348.8 265.0L349.8 266.3L350.8 264.1L351.8 261.8L352.8 266.7L353.8 263.8L354.8 262.8L355.8 264.4L356.8 264.5L357.8 262.9L358.8 261.7L359.8 261.6L360.8 264.1L361.8 262.2L362.8 263.4L363.8 258.8L364.8 261.5L365.8 261.7L366.8 261.6L367.8 258.8L368.8 261.6L369.8 265.4L370.8 263.0L371.8 261.4L372.8 261.1L373.8 259.9L374.8 262.9L375.8 261.0L376.8 261.7L377.8 264.1L378.8 264.2L379.8 263.6L380.8 259.2L381.8 260.9L382.8 263.7L383.8 258.6L384.8 262.5L385.8 259.3L386.8 260.3L387.8 256.8L388.8 254.6L389.8 254.1L390.8 258.1L391.8 254.1L392.8 251.6L393.8 254.8L394.8 249.5L395.8 251.3L396.8 251.3L397.8 250.2L398.8 249.4L399.8 247.3L400.8 241.7L401.8 245.7L402.8 244.1L403.8 242.7L404.8 242.8L405.8 242.2L406.8 240.0L407.8 241.3L408.8 241.5L409.8 236.7L410.8 234.5L411.8 231.6L412.8 234.1L413.8 228.5L414.8 234.1L415.8 231.8L416.8 228.1L417.8 229.8L418.8 226.4L419.8 225.6L420.8 228.7L421.8 225.1L422.8 227.4L423.8 226.7L424.8 230.1L425.8 228.0L426.8 230.7L427.8 229.7L428.8 227.0L429.8 226.6L430.8 225.2L431.8 229.6L432.8 224.6L433.8 228.8L434.8 226.2L435.8 230.0L436.8 232.9L437.8 230.3L438.8 231.4L439.8 232.0L440.8 233.8L441.8 231.0L442.8 234.5L443.8 234.5L444.8 233.3L445.8 233.8L446.8 238.5L447.8 238.0L448.8 238.0L449.8 236.0L450.8 237.4L451.8 236.1L452.8 235.7L453.8 238.6L454.8 238.9L455.8 238.3L456.8 238.9L457.8 242.5L458.8 241.4L459.8 239.8L460.8 247.1L461.8 240.2L462.8 244.2L463.8 242.0L464.8 245.1L465.8 243.8L466.8 245.4L467.8 243.1L468.8 241.5L469.8 245.3L470.8 242.1L471.8 241.4L472.8 241.1L473.8 239.6L474.8 241.3L475.8 243.5L476.8 242.9L477.8 240.5L478.8 241.0L479.8 241.0L480.8 238.3L481.8 242.2L482.8 239.7L483.8 235.7L484.8 240.2L485.8 237.2L486.8 239.4L487.8 240.0L488.8 238.0L489.8 239.1L490.8 241.0L491.8 235.8L492.8 234.8L493.8 238.1L494.8 237.9L495.0 242.3" stroke="#00ffff" stroke-width="1.1" stroke-dasharray="3 2.6" opacity="0.9"/>
<path d="M266.8 270.2L267.8 269.1L268.8 267.7L269.8 263.9L270.8 264.8L271.8 266.5L272.8 267.2L273.8 265.9L274.8 266.7L275.8 267.6L276.8 264.7L277.8 265.1L278.8 263.9L279.8 267.9L280.8 261.7L281.8 266.6L282.8 266.8L283.8 261.5L284.8 264.4L285.8 267.4L286.8 263.6L287.8 264.2L288.8 265.3L289.8 267.9L290.8 266.6L291.8 264.2L292.8 262.9L293.8 262.7L294.8 266.2L295.8 261.5L296.8 264.6L297.8 266.8L298.8 263.5L299.8 265.2L300.8 265.7L301.8 267.3L302.8 263.4L303.8 266.1L304.8 265.9L305.8 266.3L306.8 263.1L307.8 267.1L308.8 264.6L309.8 266.0L310.8 264.6L311.8 270.0L312.8 266.4L313.8 270.3L314.8 265.1L315.8 265.7L316.8 269.1L317.8 265.5L318.8 267.1L319.8 268.4L320.8 265.4L321.8 264.8L322.8 265.6L323.8 267.9L324.8 266.8L325.8 268.3L326.8 265.3L327.8 264.9L328.8 263.5L329.8 265.0L330.8 264.4L331.8 265.2L332.8 263.6L333.8 263.9L334.8 264.6L335.8 266.9L336.8 264.4L337.8 263.8L338.8 266.7L339.8 267.2L340.8 264.0L341.8 264.0L342.8 260.9L343.8 261.3L344.8 264.1L345.8 266.6L346.8 267.3L347.8 265.2L348.8 262.5L349.8 264.1L350.8 260.1L351.8 262.5L352.8 260.1L353.8 262.1L354.8 264.6L355.8 265.7L356.8 261.8L357.8 261.9L358.8 257.8L359.8 259.5L360.8 263.5L361.8 262.7L362.8 262.0L363.8 261.2L364.8 263.4L365.8 259.8L366.8 259.9L367.8 265.6L368.8 258.6L369.8 261.0L370.8 259.4L371.8 263.0L372.8 259.6L373.8 259.4L374.8 259.5L375.8 261.6L376.8 258.1L377.8 257.1L378.8 259.6L379.8 259.1L380.8 260.6L381.8 258.6L382.8 257.5L383.8 258.6L384.8 258.1L385.8 258.3L386.8 255.6L387.8 251.2L388.8 253.7L389.8 253.0L390.8 252.0L391.8 252.4L392.8 250.1L393.8 251.9L394.8 248.3L395.8 250.6L396.8 244.8L397.8 241.4L398.8 242.9L399.8 249.0L400.8 241.9L401.8 241.0L402.8 240.6L403.8 238.1L404.8 238.2L405.8 236.8L406.8 239.3L407.8 236.4L408.8 233.5L409.8 233.2L410.8 231.9L411.8 227.6L412.8 230.7L413.8 226.3L414.8 228.0L415.8 225.8L416.8 226.4L417.8 226.7L418.8 224.5L419.8 222.0L420.8 221.8L421.8 223.1L422.8 221.1L423.8 221.2L424.8 221.8L425.8 221.5L426.8 223.5L427.8 221.9L428.8 223.2L429.8 221.9L430.8 220.3L431.8 225.4L432.8 226.1L433.8 223.7L434.8 226.5L435.8 226.0L436.8 223.6L437.8 228.5L438.8 222.9L439.8 227.1L440.8 229.1L441.8 226.2L442.8 231.9L443.8 228.3L444.8 232.5L445.8 230.3L446.8 232.6L447.8 231.9L448.8 237.1L449.8 233.9L450.8 235.7L451.8 235.6L452.8 235.1L453.8 234.8L454.8 236.6L455.8 238.3L456.8 238.7L457.8 238.6L458.8 237.8L459.8 239.9L460.8 237.1L461.8 239.2L462.8 235.6L463.8 238.3L464.8 239.3L465.8 236.8L466.8 237.3L467.8 241.1L468.8 240.1L469.8 241.1L470.8 241.1L471.8 239.9L472.8 240.0L473.8 238.9L474.8 240.6L475.8 235.1L476.8 237.5L477.8 239.6L478.8 239.1L479.8 237.5L480.8 236.7L481.8 238.8L482.8 236.7L483.8 234.8L484.8 239.0L485.8 236.0L486.8 236.9L487.8 233.4L488.8 231.5L489.8 237.1L490.8 239.3L491.8 231.7L492.8 235.0L493.8 236.9L494.8 236.1L495.0 235.9" stroke="#0040ff" stroke-width="1.1" stroke-dasharray="3 2.6" opacity="0.9"/>
<path d="M130.6 283.3L131.2 274.3L131.8 280.3L132.4 280.3L133.0 278.2L133.6 271.1L134.2 280.7L134.8 276.0L135.4 276.6L136.0 280.0L136.6 278.0L137.2 274.4L137.8 276.9L138.4 275.7L139.0 272.1L139.6 274.4L140.2 267.4L140.8 268.0L141.4 271.5L142.0 276.6L142.6 270.0L143.2 276.5L143.8 273.3L144.4 277.4L145.0 272.1L145.6 280.5L146.2 274.6L146.8 273.4L147.4 276.3L148.0 271.8L148.6 277.2L149.2 274.4L149.8 276.2L150.4 275.2L151.0 268.9L151.6 269.8L152.2 274.2L152.8 271.6L153.4 276.8L154.0 272.6L154.6 278.6L155.2 277.5L155.8 281.2L156.4 275.7L157.0 273.8L157.6 269.5L158.2 273.7L158.8 275.0L159.4 272.8L160.0 275.3L160.6 271.8L161.2 273.2L161.8 273.5L162.4 270.6L163.0 275.2L163.6 272.8L164.2 271.1L164.8 270.7L165.4 274.5L166.0 270.1L166.6 270.7L167.2 268.1L167.8 274.4L168.4 272.9L169.0 274.0L169.6 275.4L170.2 266.9L170.8 273.0L171.4 270.6L172.0 273.6L172.6 272.8L173.2 275.2L173.8 276.4L174.4 266.9L175.0 267.9L175.6 272.5L176.2 273.0L176.8 266.2L177.4 271.1L178.0 271.3L178.6 265.2L179.2 265.8L179.8 266.4L180.4 264.8L181.0 267.9L181.6 264.6L182.2 265.0L182.8 262.1L183.4 259.8L184.0 261.1L184.6 264.7L185.2 266.8L185.8 260.8L186.4 261.6L187.0 256.2L187.6 263.4L188.2 258.1L188.8 261.8L189.4 262.4L190.0 256.9L190.6 257.7L191.2 260.6L191.8 261.8L192.4 257.7L193.0 257.3L193.6 260.2L194.2 262.3L194.8 256.9L195.4 257.5L196.0 261.0L196.6 259.5L197.2 257.3L197.8 258.9L198.4 260.1L199.0 260.7L199.6 259.1L200.2 258.2L200.8 255.2L201.4 259.7L202.0 259.9L202.6 259.8L203.2 259.5L203.8 259.1L204.4 259.9L205.0 256.8L205.6 255.6L206.2 259.1L206.8 256.3L207.4 255.4L208.0 256.6L208.6 255.1L209.2 254.5L209.8 252.3L210.4 256.3L211.0 252.7L211.6 256.6L212.2 252.0L212.8 252.3L213.4 251.9L214.0 252.9L214.6 250.5L215.2 248.3L215.8 246.9L216.4 250.0L217.0 248.4L217.6 247.6L218.2 245.8L218.8 244.3L219.4 244.6L220.0 242.6L220.6 241.8L221.2 239.3L221.8 236.6L222.4 237.2L223.0 235.4L223.6 233.6L224.2 230.5L224.8 230.0L225.4 228.9L226.0 227.3L226.6 226.2L227.2 224.8L227.8 223.3L228.4 221.6L229.0 220.5L229.6 219.1L230.2 217.5L230.8 215.6L231.4 214.2L232.0 213.4L232.6 211.5L233.2 209.6L233.8 208.4L234.4 207.2L235.0 205.9L235.6 204.5L236.2 202.8L236.8 200.9L237.4 199.2L238.0 198.1L238.6 197.1L239.2 194.7L239.8 193.8L240.4 191.6L241.0 190.1L241.6 189.1L242.2 187.5L242.8 186.2L243.4 184.4L244.0 183.3L244.6 182.1L245.2 180.2L245.8 179.7L246.4 178.4L247.0 177.3L247.6 175.4L248.2 175.3L248.8 174.0L249.4 173.5L250.0 172.7L250.6 171.8L251.2 171.4L251.8 170.9L252.4 170.8L253.0 170.4L253.6 169.6L254.2 169.2L254.8 168.6L255.4 168.5L256.0 167.4L256.6 167.3L257.2 166.7L257.8 166.2L258.4 165.8L259.0 165.6L259.6 165.0L260.2 164.6L260.8 163.8L261.4 163.2L262.0 162.6L262.6 162.6L263.2 162.0L263.8 161.6L264.4 160.6L265.0 160.1L265.6 160.2L266.2 159.1L266.8 157.9L267.4 158.0L268.0 157.3L268.6 156.6L269.2 155.9L269.8 155.2L270.4 154.6L271.0 154.1L271.6 153.6L272.2 153.5L272.8 153.0L273.4 153.2L274.0 153.0L274.6 152.5L275.2 152.5L275.8 152.8L276.4 152.7L277.0 153.4L277.6 152.3L278.2 152.7L278.8 153.6L279.4 154.5L280.0 155.3L280.6 155.7L281.2 156.7L281.8 157.7L282.4 159.1L283.0 160.7L283.6 160.9L284.2 163.5L284.8 164.3L285.4 165.1L286.0 166.5L286.6 167.5L287.2 168.5L287.8 169.2L288.4 170.0L289.0 170.2L289.6 171.3L290.2 171.7L290.8 172.6L291.4 173.5L292.0 173.9L292.6 174.7L293.2 175.4L293.8 176.0L294.4 176.4L295.0 177.7L295.6 178.4L296.2 179.8L296.8 179.7L297.4 181.1L298.0 181.4L298.6 182.2L299.2 183.6L299.8 183.9L300.4 185.0L301.0 185.4L301.6 186.0L302.2 186.9L302.8 188.0L303.4 188.9L304.0 190.5L304.6 190.9L305.2 191.2L305.8 193.0L306.4 193.4L307.0 194.5L307.6 195.7L308.2 196.0L308.8 197.3L309.4 198.0L310.0 199.0L310.6 199.9L311.2 200.9L311.8 202.1L312.4 202.7" stroke="#ff0000" stroke-width="3" stroke-dasharray="7.5 6.5"/>
<path d="M130.6 292.8L131.2 289.4L131.8 289.4L132.4 289.7L133.0 291.7L133.6 286.8L134.2 285.1L134.8 283.7L135.4 289.4L136.0 285.0L136.6 287.7L137.2 284.1L137.8 287.2L138.4 286.6L139.0 286.0L139.6 290.9L140.2 288.2L140.8 284.7L141.4 294.4L142.0 284.8L142.6 283.0L143.2 280.3L143.8 288.2L144.4 285.5L145.0 286.8L145.6 289.2L146.2 285.2L146.8 285.7L147.4 288.7L148.0 285.2L148.6 287.8L149.2 286.3L149.8 286.0L150.4 290.0L151.0 286.6L151.6 286.2L152.2 279.2L152.8 281.6L153.4 281.0L154.0 283.5L154.6 283.7L155.2 282.2L155.8 279.4L156.4 281.2L157.0 281.1L157.6 283.4L158.2 275.2L158.8 282.9L159.4 283.6L160.0 280.2L160.6 274.9L161.2 273.2L161.8 276.0L162.4 280.0L163.0 276.4L163.6 270.1L164.2 265.0L164.8 274.7L165.4 278.3L166.0 268.0L166.6 269.1L167.2 270.7L167.8 270.6L168.4 271.6L169.0 264.8L169.6 269.3L170.2 266.0L170.8 269.8L171.4 268.2L172.0 270.1L172.6 264.4L173.2 263.6L173.8 263.7L174.4 263.7L175.0 262.3L175.6 260.5L176.2 260.8L176.8 258.6L177.4 263.3L178.0 258.9L178.6 257.0L179.2 259.4L179.8 257.0L180.4 260.4L181.0 258.2L181.6 260.9L182.2 257.7L182.8 254.9L183.4 257.3L184.0 256.2L184.6 257.0L185.2 250.7L185.8 254.3L186.4 253.8L187.0 256.3L187.6 252.1L188.2 254.4L188.8 253.5L189.4 251.5L190.0 252.5L190.6 253.5L191.2 253.0L191.8 253.0L192.4 253.7L193.0 253.2L193.6 253.0L194.2 252.0L194.8 250.2L195.4 252.8L196.0 253.4L196.6 255.1L197.2 250.6L197.8 254.4L198.4 250.8L199.0 254.0L199.6 247.9L200.2 250.7L200.8 247.5L201.4 249.0L202.0 250.2L202.6 251.5L203.2 249.4L203.8 250.5L204.4 248.2L205.0 251.6L205.6 248.7L206.2 252.2L206.8 251.3L207.4 247.3L208.0 249.2L208.6 247.9L209.2 250.0L209.8 247.9L210.4 249.4L211.0 246.4L211.6 245.7L212.2 244.5L212.8 244.1L213.4 243.5L214.0 242.9L214.6 243.1L215.2 242.7L215.8 240.5L216.4 239.0L217.0 237.6L217.6 237.0L218.2 235.6L218.8 234.6L219.4 232.5L220.0 229.7L220.6 228.1L221.2 225.5L221.8 223.9L222.4 220.8L223.0 219.3L223.6 216.4L224.2 214.1L224.8 211.4L225.4 208.8L226.0 206.8L226.6 204.8L227.2 202.9L227.8 200.8L228.4 198.8L229.0 196.6L229.6 194.3L230.2 193.1L230.8 190.7L231.4 189.1L232.0 187.5L232.6 185.8L233.2 184.5L233.8 183.5L234.4 181.5L235.0 180.0L235.6 178.6L236.2 178.4L236.8 176.0L237.4 174.7L238.0 173.4L238.6 172.3L239.2 170.4L239.8 168.8L240.4 167.4L241.0 165.8L241.6 164.1L242.2 162.6L242.8 161.6L243.4 159.9L244.0 159.0L244.6 157.4L245.2 156.3L245.8 155.4L246.4 153.2L247.0 152.9L247.6 151.6L248.2 150.7L248.8 150.4L249.4 149.5L250.0 148.5L250.6 148.2L251.2 148.0L251.8 147.0L252.4 146.1L253.0 145.5L253.6 145.2L254.2 144.8L254.8 144.0L255.4 143.6L256.0 143.2L256.6 141.9L257.2 141.7L257.8 141.2L258.4 140.3L259.0 139.7L259.6 139.7L260.2 138.7L260.8 138.1L261.4 137.4L262.0 136.7L262.6 136.1L263.2 135.8L263.8 134.9L264.4 134.1L265.0 133.7L265.6 133.2L266.2 132.7L266.8 132.4L267.4 131.7L268.0 131.4L268.6 130.8L269.2 129.7L269.8 130.1L270.4 130.2L271.0 129.6L271.6 129.4L272.2 128.9L272.8 129.4L273.4 129.1L274.0 129.0L274.6 129.7L275.2 130.1L275.8 130.0L276.4 130.1L277.0 130.1L277.6 131.0L278.2 131.0L278.8 131.1L279.4 131.4L280.0 131.8L280.6 132.7L281.2 132.7L281.8 133.5L282.4 134.6L283.0 135.5L283.6 136.0L284.2 137.4L284.8 138.0L285.4 138.9L286.0 140.1L286.6 141.2L287.2 142.8L287.8 143.4L288.4 144.5L289.0 144.9L289.6 146.0L290.2 146.7L290.8 147.6L291.4 148.8L292.0 149.9L292.6 150.3L293.2 151.1L293.8 152.1L294.4 152.9L295.0 153.5L295.6 154.3L296.2 155.3L296.8 156.3L297.4 156.8L298.0 157.2L298.6 158.8L299.2 159.4L299.8 160.0L300.4 160.9L301.0 161.2L301.6 162.7L302.2 163.6L302.8 164.7L303.4 165.6L304.0 166.4L304.6 167.4L305.2 168.6L305.8 169.7L306.4 170.7L307.0 171.9L307.6 171.9L308.2 173.5L308.8 174.3L309.4 175.0L310.0 176.2L310.6 177.0L311.2 177.5L311.8 178.2L312.4 179.5L313.0 180.4L313.6 181.4L314.2 182.3L314.8 183.0L315.4 183.5L316.0 184.5L316.6 185.3L317.2 187.0L317.8 187.1L318.4 188.1L319.0 189.1L319.6 190.5L320.2 190.9L320.8 192.2L321.4 193.0L322.0 194.4L322.6 194.6L323.2 195.8L323.8 196.9L324.4 197.6L325.0 198.1L325.6 199.8L326.2 199.9L326.8 201.0L327.4 202.3L328.0 203.2L328.6 203.5L329.2 204.0L329.8 205.0L330.4 206.0L331.0 207.1L331.6 208.3L332.2 209.0L332.8 209.7L333.4 210.1L334.0 211.1L334.6 212.0L335.2 212.5L335.8 213.1L336.4 213.7L337.0 214.8L337.6 215.5L338.2 215.4L338.8 215.8L339.4 216.2L340.0 216.6L340.6 217.1L341.2 217.0L341.8 217.8L342.4 217.5L343.0 217.6L343.6 218.2L344.2 218.6L344.8 218.2L345.4 218.8L346.0 219.2L346.6 219.2L347.2 219.5L347.8 219.8L348.4 219.8L349.0 219.9L349.6 220.4L350.2 220.7L350.8 220.7L351.4 221.6L352.0 222.0L352.6 222.2L353.2 222.8L353.8 222.8L354.4 223.7L355.0 224.1L355.6 225.2L356.2 224.6L356.8 225.6" stroke="#ffbf00" stroke-width="3" stroke-dasharray="7.5 6.5"/>
<path d="M130.6 293.1L131.2 299.1L131.8 303.0L132.4 297.5L133.0 298.1L133.6 299.9L134.2 297.8L134.8 295.6L135.4 294.9L136.0 295.7L136.6 294.8L137.2 298.6L137.8 291.9L138.4 294.4L139.0 292.7L139.6 287.7L140.2 296.3L140.8 293.9L141.4 289.9L142.0 288.9L142.6 297.6L143.2 298.8L143.8 293.1L144.4 292.6L145.0 295.6L145.6 292.0L146.2 291.8L146.8 296.4L147.4 291.2L148.0 298.1L148.6 295.3L149.2 297.1L149.8 287.9L150.4 297.1L151.0 293.8L151.6 296.0L152.2 291.3L152.8 290.1L153.4 296.4L154.0 294.1L154.6 293.7L155.2 292.9L155.8 291.8L156.4 284.9L157.0 288.2L157.6 287.3L158.2 292.9L158.8 289.9L159.4 283.1L160.0 281.3L160.6 285.8L161.2 284.6L161.8 285.0L162.4 277.9L163.0 285.5L163.6 281.9L164.2 283.8L164.8 280.3L165.4 275.1L166.0 273.8L166.6 277.5L167.2 265.0L167.8 275.7L168.4 274.4L169.0 270.4L169.6 273.7L170.2 270.9L170.8 266.9L171.4 269.2L172.0 271.7L172.6 269.9L173.2 267.1L173.8 269.0L174.4 269.1L175.0 270.3L175.6 268.4L176.2 270.2L176.8 265.0L177.4 265.1L178.0 263.6L178.6 265.4L179.2 265.2L179.8 264.2L180.4 261.1L181.0 265.0L181.6 258.0L182.2 259.0L182.8 254.8L183.4 262.5L184.0 261.2L184.6 259.4L185.2 259.5L185.8 256.8L186.4 255.8L187.0 256.0L187.6 257.6L188.2 256.1L188.8 256.6L189.4 254.3L190.0 252.9L190.6 254.7L191.2 252.9L191.8 252.2L192.4 250.6L193.0 251.6L193.6 248.4L194.2 248.6L194.8 250.8L195.4 249.0L196.0 247.3L196.6 247.0L197.2 249.8L197.8 247.3L198.4 248.3L199.0 247.9L199.6 251.5L200.2 248.7L200.8 249.8L201.4 249.3L202.0 247.7L202.6 247.1L203.2 244.6L203.8 247.0L204.4 249.1L205.0 247.2L205.6 248.5L206.2 245.9L206.8 245.5L207.4 244.0L208.0 245.0L208.6 245.4L209.2 245.6L209.8 242.9L210.4 242.7L211.0 243.6L211.6 242.9L212.2 242.9L212.8 243.7L213.4 241.3L214.0 242.8L214.6 241.2L215.2 239.9L215.8 238.1L216.4 240.1L217.0 238.6L217.6 235.9L218.2 234.0L218.8 231.7L219.4 228.8L220.0 227.0L220.6 224.5L221.2 222.4L221.8 220.2L222.4 218.0L223.0 216.0L223.6 214.0L224.2 211.4L224.8 209.4L225.4 206.9L226.0 204.5L226.6 202.4L227.2 200.0L227.8 198.3L228.4 196.1L229.0 194.1L229.6 192.1L230.2 190.8L230.8 188.5L231.4 186.3L232.0 184.5L232.6 182.2L233.2 180.4L233.8 178.3L234.4 176.0L235.0 174.2L235.6 172.5L236.2 170.4L236.8 168.4L237.4 166.8L238.0 164.5L238.6 163.4L239.2 161.8L239.8 160.1L240.4 158.9L241.0 156.8L241.6 155.8L242.2 154.5L242.8 153.3L243.4 152.4L244.0 151.5L244.6 150.6L245.2 149.7L245.8 148.4L246.4 147.6L247.0 146.6L247.6 145.4L248.2 144.6L248.8 143.0L249.4 142.3L250.0 141.3L250.6 140.0L251.2 139.1L251.8 137.5L252.4 137.0L253.0 134.8L253.6 134.6L254.2 133.1L254.8 132.3L255.4 131.6L256.0 130.9L256.6 130.4L257.2 130.0L257.8 129.8L258.4 129.5L259.0 128.5L259.6 128.8L260.2 128.1L260.8 127.6L261.4 127.3L262.0 126.7L262.6 126.8L263.2 125.7L263.8 125.9L264.4 125.1L265.0 125.0L265.6 124.4L266.2 124.6L266.8 123.8L267.4 123.4L268.0 122.4L268.6 121.9L269.2 122.0L269.8 122.0L270.4 121.2L271.0 120.3L271.6 120.8L272.2 119.8L272.8 119.8L273.4 118.8L274.0 118.5L274.6 118.4L275.2 117.4L275.8 117.7L276.4 117.6L277.0 117.5L277.6 117.1L278.2 118.0L278.8 118.1L279.4 118.6L280.0 118.7L280.6 119.9L281.2 121.0L281.8 121.9L282.4 122.9L283.0 123.8L283.6 124.9L284.2 126.2L284.8 127.2L285.4 128.2L286.0 129.1L286.6 130.2L287.2 130.7L287.8 131.7L288.4 132.5L289.0 133.1L289.6 134.6L290.2 135.1L290.8 135.5L291.4 136.2L292.0 137.1L292.6 137.7L293.2 138.3L293.8 139.3L294.4 139.9L295.0 140.4L295.6 141.7L296.2 141.9L296.8 142.5L297.4 142.7L298.0 143.5L298.6 144.1L299.2 145.3L299.8 145.9L300.4 146.4L301.0 147.2L301.6 148.2L302.2 148.8L302.8 149.7L303.4 150.8L304.0 151.0L304.6 152.4L305.2 153.1L305.8 154.1L306.4 155.0L307.0 156.2L307.6 157.2L308.2 158.1L308.8 158.7L309.4 160.2L310.0 161.5L310.6 161.9L311.2 162.8L311.8 164.3L312.4 165.7L313.0 166.2L313.6 167.9L314.2 168.8L314.8 169.9L315.4 171.1L316.0 172.1L316.6 173.1L317.2 174.4L317.8 176.0L318.4 176.9L319.0 178.1L319.6 178.9L320.2 180.3L320.8 181.3L321.4 183.1L322.0 184.3L322.6 185.3L323.2 186.6L323.8 187.4L324.4 188.5L325.0 190.1L325.6 190.7L326.2 192.1L326.8 193.3L327.4 193.5L328.0 194.7L328.6 196.3L329.2 197.1L329.8 198.2L330.4 199.2L331.0 199.7L331.6 201.3L332.2 202.2L332.8 203.0L333.4 203.7L334.0 204.2L334.6 205.0L335.2 205.6L335.8 206.4L336.4 207.0L337.0 207.8L337.6 208.3L338.2 208.4L338.8 209.3L339.4 208.9L340.0 209.6L340.6 210.1L341.2 209.7L341.8 210.0L342.4 210.5L343.0 211.3L343.6 211.2L344.2 211.6L344.8 212.3L345.4 212.2L346.0 213.0L346.6 214.2L347.2 214.9L347.8 215.5L348.4 215.9L349.0 216.5L349.6 216.2L350.2 216.8L350.8 217.6L351.4 218.4L352.0 218.6L352.6 219.0L353.2 219.2L353.8 220.2L354.4 220.6L355.0 221.1L355.6 221.1L356.2 222.3L356.8 221.7L357.4 222.7L357.7 222.3" stroke="#80ff00" stroke-width="3" stroke-dasharray="7.5 6.5"/>
<path d="M130.6 290.9L131.2 288.4L131.8 290.2L132.4 288.8L133.0 284.2L133.6 284.7L134.2 284.5L134.8 288.4L135.4 287.3L136.0 287.0L136.6 284.1L137.2 282.6L137.8 283.6L138.4 286.1L139.0 285.9L139.6 288.6L140.2 289.5L140.8 283.7L141.4 292.1L142.0 287.7L142.6 283.6L143.2 282.5L143.8 283.8L144.4 280.4L145.0 280.1L145.6 282.4L146.2 281.8L146.8 275.0L147.4 283.1L148.0 274.9L148.6 281.2L149.2 279.8L149.8 278.9L150.4 282.1L151.0 277.8L151.6 277.4L152.2 281.4L152.8 281.2L153.4 278.1L154.0 277.1L154.6 275.0L155.2 276.8L155.8 277.3L156.4 278.6L157.0 276.5L157.6 273.3L158.2 276.3L158.8 280.0L159.4 276.0L160.0 268.5L160.6 272.5L161.2 270.5L161.8 269.8L162.4 268.6L163.0 266.2L163.6 264.6L164.2 269.8L164.8 265.9L165.4 265.6L166.0 264.3L166.6 265.2L167.2 263.8L167.8 264.6L168.4 263.9L169.0 264.5L169.6 263.4L170.2 264.3L170.8 262.5L171.4 260.7L172.0 261.9L172.6 262.4L173.2 258.6L173.8 258.1L174.4 254.2L175.0 260.9L175.6 259.2L176.2 260.7L176.8 255.2L177.4 252.2L178.0 256.9L178.6 254.2L179.2 256.4L179.8 253.5L180.4 255.2L181.0 251.8L181.6 252.6L182.2 253.3L182.8 251.3L183.4 250.2L184.0 252.4L184.6 250.7L185.2 251.0L185.8 250.2L186.4 249.0L187.0 248.4L187.6 249.7L188.2 248.4L188.8 245.6L189.4 244.5L190.0 245.3L190.6 242.7L191.2 242.1L191.8 244.6L192.4 244.5L193.0 245.4L193.6 244.9L194.2 246.5L194.8 243.3L195.4 243.4L196.0 244.8L196.6 245.5L197.2 243.3L197.8 242.2L198.4 240.1L199.0 243.9L199.6 242.2L200.2 244.0L200.8 244.2L201.4 244.3L202.0 242.5L202.6 242.7L203.2 240.0L203.8 241.4L204.4 240.3L205.0 241.5L205.6 239.7L206.2 239.7L206.8 239.2L207.4 241.9L208.0 240.6L208.6 239.4L209.2 239.7L209.8 238.7L210.4 240.5L211.0 240.0L211.6 238.6L212.2 238.3L212.8 236.8L213.4 238.7L214.0 237.0L214.6 238.0L215.2 235.5L215.8 236.0L216.4 235.7L217.0 234.4L217.6 232.1L218.2 230.5L218.8 228.1L219.4 225.7L220.0 223.2L220.6 221.6L221.2 219.0L221.8 216.8L222.4 214.5L223.0 212.3L223.6 209.9L224.2 208.3L224.8 205.9L225.4 203.4L226.0 201.2L226.6 199.2L227.2 196.7L227.8 195.1L228.4 192.8L229.0 190.8L229.6 188.8L230.2 186.9L230.8 185.2L231.4 183.1L232.0 180.7L232.6 178.9L233.2 176.8L233.8 174.6L234.4 172.9L235.0 170.3L235.6 167.9L236.2 166.4L236.8 164.1L237.4 162.8L238.0 161.0L238.6 159.2L239.2 157.9L239.8 156.0L240.4 154.6L241.0 152.8L241.6 151.4L242.2 150.6L242.8 150.0L243.4 148.0L244.0 147.2L244.6 145.8L245.2 145.0L245.8 143.5L246.4 142.8L247.0 142.0L247.6 140.8L248.2 139.9L248.8 139.1L249.4 138.4L250.0 137.5L250.6 136.7L251.2 135.8L251.8 134.5L252.4 133.9L253.0 133.3L253.6 132.3L254.2 131.5L254.8 130.2L255.4 129.7L256.0 129.0L256.6 128.6L257.2 127.8L257.8 127.2L258.4 127.1L259.0 126.3L259.6 125.7L260.2 125.7L260.8 125.0L261.4 124.6L262.0 124.1L262.6 123.3L263.2 123.0L263.8 122.7L264.4 122.5L265.0 122.0L265.6 121.8L266.2 120.9L266.8 120.6L267.4 120.3L268.0 119.2L268.6 118.8L269.2 119.0L269.8 118.5L270.4 118.1L271.0 117.5L271.6 117.1L272.2 116.3L272.8 116.0L273.4 115.8L274.0 115.0L274.6 114.6L275.2 114.4L275.8 114.4L276.4 114.0L277.0 113.1L277.6 113.1L278.2 113.0L278.8 113.2L279.4 113.2L280.0 113.4L280.6 113.3L281.2 114.2L281.8 114.6L282.4 114.8L283.0 115.6L283.6 116.5L284.2 116.9L284.8 117.7L285.4 118.4L286.0 119.8L286.6 120.0L287.2 121.4L287.8 122.5L288.4 122.7L289.0 124.0L289.6 124.7L290.2 125.2L290.8 126.3L291.4 127.4L292.0 127.6L292.6 128.2L293.2 128.2L293.8 129.3L294.4 130.5L295.0 131.4L295.6 132.3L296.2 133.1L296.8 134.0L297.4 134.3L298.0 135.6L298.6 135.7L299.2 136.7L299.8 136.9L300.4 138.0L301.0 138.9L301.6 139.7L302.2 140.1L302.8 140.9L303.4 141.4L304.0 142.4L304.6 142.8L305.2 144.1L305.8 144.8L306.4 145.8L307.0 146.4L307.6 147.1L308.2 147.9L308.8 148.4L309.4 148.8L310.0 150.4L310.6 150.9L311.2 152.0L311.8 152.8L312.4 153.5L313.0 154.4L313.6 155.5L314.2 156.7L314.8 157.7L315.4 158.6L316.0 159.8L316.6 160.9L317.2 161.5L317.8 162.6L318.4 163.3L319.0 164.6L319.6 165.7L320.2 167.2L320.8 168.7L321.4 169.8L322.0 170.4L322.6 172.0L323.2 172.7L323.8 174.0L324.4 175.1L325.0 176.7L325.6 177.5L326.2 179.2L326.8 180.0L327.4 180.9L328.0 182.2L328.6 183.5L329.2 183.7L329.8 184.9L330.4 186.2L331.0 187.1L331.6 188.0L332.2 189.3L332.8 189.7L333.4 190.3L334.0 191.1L334.6 191.6L335.2 192.7L335.8 193.0L336.4 194.7L337.0 194.5L337.6 194.7L338.2 194.9L338.8 195.5L339.4 196.2L340.0 196.2L340.6 196.9L341.2 197.5L341.8 198.0L342.4 198.4L343.0 198.6L343.6 198.9L344.2 199.3L344.8 199.9L345.4 200.6L346.0 201.3L346.6 201.5L347.2 201.7L347.8 202.7L348.4 202.6L349.0 203.1L349.6 203.6L350.2 204.2L350.8 204.8L351.4 205.1L352.0 205.5L352.6 206.5L353.2 206.8L353.8 207.2L354.4 207.8L355.0 208.2L355.6 209.1L356.2 209.0L356.8 209.6L357.0 210.1" stroke="#00ff40" stroke-width="3" stroke-dasharray="7.5 6.5"/>
<path d="M130.3 306.5L130.9 293.6L131.5 284.0L132.1 286.8L132.7 280.4L133.3 284.1L133.9 286.5L134.5 282.1L135.1 282.9L135.7 284.4L136.3 282.8L136.9 281.6L137.5 277.7L138.1 280.1L138.7 282.2L139.3 280.3L139.9 279.7L140.5 279.2L141.1 276.7L141.7 282.2L142.3 276.2L142.9 283.5L143.5 286.4L144.1 281.4L144.7 279.5L145.3 276.3L145.9 274.4L146.5 275.4L147.1 279.8L147.7 276.7L148.3 272.2L148.9 278.2L149.5 275.0L150.1 279.0L150.7 275.8L151.3 273.5L151.9 273.1L152.5 276.7L153.1 272.7L153.7 278.6L154.3 273.6L154.9 278.8L155.5 270.3L156.1 270.3L156.7 274.3L157.3 277.0L157.9 270.8L158.5 273.0L159.1 267.1L159.7 265.1L160.3 266.6L160.9 270.4L161.5 266.1L162.1 262.0L162.7 260.5L163.3 264.0L163.9 264.2L164.5 261.7L165.1 263.2L165.7 261.5L166.3 263.7L166.9 261.6L167.5 258.4L168.1 259.9L168.7 262.3L169.3 258.2L169.9 253.9L170.5 257.1L171.1 256.2L171.7 251.4L172.3 256.8L172.9 258.1L173.5 254.7L174.1 253.7L174.7 254.9L175.3 253.4L175.9 253.3L176.5 253.2L177.1 249.4L177.7 250.7L178.3 253.3L178.9 250.3L179.5 250.4L180.1 250.7L180.7 248.5L181.3 247.1L181.9 251.1L182.5 247.9L183.1 246.0L183.7 247.5L184.3 245.6L184.9 244.1L185.5 244.4L186.1 242.6L186.7 242.5L187.3 244.0L187.9 242.9L188.5 242.1L189.1 243.6L189.7 242.7L190.3 241.4L190.9 240.0L191.5 240.6L192.1 242.2L192.7 240.1L193.3 242.7L193.9 240.3L194.5 238.9L195.1 239.6L195.7 241.4L196.3 239.1L196.9 239.7L197.5 239.5L198.1 238.4L198.7 239.5L199.3 239.9L199.9 239.5L200.5 237.2L201.1 238.3L201.7 238.4L202.3 238.5L202.9 239.1L203.5 237.7L204.1 237.3L204.7 235.9L205.3 236.2L205.9 237.7L206.5 235.8L207.1 236.5L207.7 235.2L208.3 236.2L208.9 235.2L209.5 236.2L210.1 235.6L210.7 235.8L211.3 234.3L211.9 235.0L212.5 235.6L213.1 232.8L213.7 233.8L214.3 233.3L214.9 233.4L215.5 232.9L216.1 232.2L216.7 231.1L217.3 230.0L217.9 228.0L218.5 226.1L219.1 223.7L219.7 221.7L220.3 219.5L220.9 217.8L221.5 215.1L222.1 213.4L222.7 211.1L223.3 209.0L223.9 207.2L224.5 204.7L225.1 202.2L225.7 200.3L226.3 198.4L226.9 196.2L227.5 194.3L228.1 191.7L228.7 190.5L229.3 188.2L229.9 186.1L230.5 184.5L231.1 182.1L231.7 180.6L232.3 178.8L232.9 176.1L233.5 173.8L234.1 172.3L234.7 170.0L235.3 168.1L235.9 165.3L236.5 163.8L237.1 162.6L237.7 160.0L238.3 158.3L238.9 156.8L239.5 155.3L240.1 153.6L240.7 151.5L241.3 150.9L241.9 149.1L242.5 148.3L243.1 147.1L243.7 145.2L244.3 144.4L244.9 143.7L245.5 142.6L246.1 141.2L246.7 139.7L247.3 139.0L247.9 137.7L248.5 137.3L249.1 136.0L249.7 135.4L250.3 133.4L250.9 133.0L251.5 132.0L252.1 131.2L252.7 130.0L253.3 129.6L253.9 128.3L254.5 128.4L255.1 127.0L255.7 126.1L256.3 125.3L256.9 125.1L257.5 124.7L258.1 123.7L258.7 122.6L259.3 122.7L259.9 122.1L260.5 121.6L261.1 120.8L261.7 120.4L262.3 119.6L262.9 119.4L263.5 118.9L264.1 118.6L264.7 117.8L265.3 117.3L265.9 116.5L266.5 115.9L267.1 115.2L267.7 114.5L268.3 114.4L268.9 113.8L269.5 113.7L270.1 112.8L270.7 112.7L271.3 112.2L271.9 111.3L272.5 110.3L273.1 110.0L273.7 109.9L274.3 109.2L274.9 108.9L275.5 108.0L276.1 107.7L276.7 107.6L277.3 107.6L277.9 107.6L278.5 108.0L279.1 108.4L279.7 108.8L280.3 109.6L280.9 109.8L281.5 111.6L282.1 111.7L282.7 112.3L283.3 113.0L283.9 114.3L284.5 115.8L285.1 116.7L285.7 118.2L286.3 118.8L286.9 119.6L287.5 120.5L288.1 121.3L288.7 122.1L289.3 122.6L289.9 123.5L290.5 123.7L291.1 124.8L291.7 125.3L292.3 125.6L292.9 126.0L293.5 126.8L294.1 127.6L294.7 127.6L295.3 129.0L295.9 129.4L296.5 130.2L297.1 131.1L297.7 130.8L298.3 131.6L298.9 132.2L299.5 133.0L300.1 133.1L300.7 133.6L301.3 135.0L301.9 135.0L302.5 135.8L303.1 136.5L303.7 137.3L304.3 137.4L304.9 138.6L305.5 139.6L306.1 140.4L306.7 140.9L307.3 141.8L307.9 143.0L308.5 143.9L309.1 144.6L309.7 145.4L310.3 146.4L310.9 147.4L311.5 148.5L312.1 149.0L312.7 149.7L313.3 150.8L313.9 151.7L314.5 152.9L315.1 153.2L315.7 153.8L316.3 155.8L316.9 156.4L317.5 157.1L318.1 158.0L318.7 158.6L319.3 159.9L319.9 160.0L320.5 161.8L321.1 163.1L321.7 165.1L322.3 166.0L322.9 168.2L323.5 169.5L324.1 170.6L324.7 171.9L325.3 173.8L325.9 174.3L326.5 175.7L327.1 177.3L327.7 177.5L328.3 178.9L328.9 180.2L329.5 181.2L330.1 181.9L330.7 182.3L331.3 183.9L331.9 184.4L332.5 185.2L333.1 185.6L333.7 186.1L334.3 187.5L334.9 188.0L335.5 188.3L336.1 189.7L336.7 190.2L337.3 190.6L337.9 191.3L338.5 192.3L339.1 193.0L339.7 193.3L340.3 194.3L340.9 194.7L341.5 195.0L342.1 195.8L342.7 196.2L343.3 197.0L343.9 197.5L344.5 197.2L345.1 198.1L345.7 199.1L346.3 199.5L346.9 199.5L347.5 200.1L348.1 201.1L348.7 200.5L349.3 202.1L349.9 202.5L350.5 202.5L351.1 202.9L351.7 203.5L352.3 204.1L352.9 204.9L353.5 205.6L354.1 205.4L354.7 205.9L355.3 206.4L355.9 206.6L356.5 207.1L357.1 208.0L357.5 207.3" stroke="#00ffff" stroke-width="3" stroke-dasharray="7.5 6.5"/>
<path d="M85.0 210.0L86.0 210.2L87.0 211.3L88.0 210.9L89.0 210.0L90.0 208.0L91.0 206.4L92.0 205.1L93.0 204.3L94.0 204.6L95.0 201.9L96.0 199.0L97.0 198.7L98.0 196.8L99.0 196.4L100.0 195.9L101.0 193.9L102.0 193.7L103.0 193.6L104.0 193.1L105.0 191.6L106.0 190.0L107.0 188.0L108.0 187.3L109.0 188.4L110.0 187.4L111.0 186.2L112.0 186.1L113.0 185.0L114.0 183.5L115.0 182.2L116.0 181.6L117.0 180.1L118.0 180.0L119.0 179.4L120.0 177.5L121.0 176.8L122.0 176.1L123.0 175.6L124.0 175.4L125.0 174.4L126.0 173.7L127.0 172.6L128.0 171.3L129.0 171.1L130.0 170.1L131.0 169.4L132.0 168.2L133.0 167.8L134.0 168.0L135.0 166.8L136.0 165.7L137.0 165.3L138.0 164.2L139.0 163.4L140.0 163.3L141.0 163.2L142.0 161.8L143.0 160.3L144.0 159.6L145.0 157.4L146.0 155.7L147.0 155.1L148.0 155.0L149.0 154.7L150.0 153.2L151.0 152.0L152.0 151.2L153.0 149.4L154.0 148.9L155.0 149.5L156.0 147.5L157.0 146.0L158.0 146.0L159.0 145.6L160.0 145.3L161.0 145.1L162.0 144.0L163.0 143.2L164.0 142.6L165.0 141.8L166.0 141.6L167.0 141.5L168.0 140.8L169.0 140.9L170.0 140.9L171.0 140.0L172.0 140.1L173.0 139.7L174.0 139.5L175.0 138.9L176.0 138.2L177.0 139.0L178.0 139.6L179.0 139.9L180.0 140.2L181.0 140.9L182.0 141.9L183.0 142.0L184.0 142.4L185.0 143.2L186.0 143.0L187.0 143.0L188.0 144.1L189.0 145.6L190.0 146.0L191.0 145.5L192.0 146.9L193.0 148.7L194.0 149.0L195.0 149.7L196.0 151.1L197.0 151.1L198.0 150.9L199.0 151.7L200.0 152.9L201.0 153.4L202.0 153.5L203.0 154.9L204.0 156.0L205.0 156.5L206.0 156.3L207.0 156.6L208.0 157.3L209.0 158.0L210.0 158.9L211.0 159.3L212.0 159.4L213.0 159.6L214.0 160.2L215.0 160.3L216.0 160.4L217.0 160.1L218.0 159.5L219.0 159.1L220.0 159.4L221.0 160.2L222.0 160.3L223.0 159.0L224.0 158.7L225.0 159.2L226.0 158.6L227.0 158.3L228.0 158.4L229.0 158.7L230.0 159.0L231.0 159.5L232.0 159.7L233.0 159.3L234.0 160.6L235.0 161.5L236.0 162.9L237.0 164.8L238.0 166.2L239.0 169.0L240.0 170.6L241.0 172.1L242.0 174.2L243.0 175.1L244.0 176.7L245.0 178.4L246.0 179.4L247.0 180.0L248.0 181.4L249.0 182.5L250.0 182.8L251.0 183.7L252.0 184.1L253.0 184.3L254.0 184.9L255.0 185.4L256.0 186.1L257.0 187.6L258.0 188.3L259.0 188.4L260.0 189.1L261.0 189.1L262.0 191.3L263.0 194.1L264.0 195.7L265.0 195.6L266.0 194.8L267.0 195.6L268.0 197.4L269.0 198.5L270.0 197.7L271.0 197.8L272.0 198.9L273.0 199.0L274.0 199.8L275.0 200.6L276.0 201.3L277.0 203.1L278.0 204.1L279.0 204.1L280.0 204.6L281.0 206.4L282.0 207.1L283.0 206.7L284.0 207.7L285.0 209.1L286.0 210.1L287.0 211.3L288.0 212.1L289.0 212.8L290.0 214.5L291.0 216.0L292.0 217.0L293.0 217.5L294.0 217.4L295.0 218.3L296.0 218.3L297.0 218.0L298.0 220.2L299.0 221.1L300.0 220.5L301.0 220.4L302.0 221.4L303.0 221.6L304.0 222.3L305.0 223.4L306.0 221.4L307.0 221.0L308.0 221.5L309.0 222.3L310.0 223.4L311.0 222.6L312.0 221.8L312.4 222.3" stroke="#ff0000" stroke-width="3" stroke-dasharray="7.5 10.1" stroke-dashoffset="-2.5"/>
<path d="M85.0 210.0L86.0 210.2L87.0 211.3L88.0 210.9L89.0 210.0L90.0 208.0L91.0 206.4L92.0 205.1L93.0 204.3L94.0 204.6L95.0 201.9L96.0 199.0L97.0 198.7L98.0 196.8L99.0 196.4L100.0 195.9L101.0 193.9L102.0 193.7L103.0 193.6L104.0 193.1L105.0 191.6L106.0 190.0L107.0 188.0L108.0 187.3L109.0 188.4L110.0 187.4L111.0 186.2L112.0 186.1L113.0 185.0L114.0 183.5L115.0 182.2L116.0 181.6L117.0 180.1L118.0 180.0L119.0 179.4L120.0 177.5L121.0 176.8L122.0 176.1L123.0 175.6L124.0 175.4L125.0 174.4L126.0 173.7L127.0 172.6L128.0 171.3L129.0 171.1L130.0 170.1L131.0 169.4L132.0 168.2L133.0 167.8L134.0 168.0L135.0 166.8L136.0 165.7L137.0 165.3L138.0 164.2L139.0 163.4L140.0 163.3L141.0 163.2L142.0 161.8L143.0 160.3L144.0 159.6L145.0 157.4L146.0 155.7L147.0 155.1L148.0 155.0L149.0 154.7L150.0 153.2L151.0 152.0L152.0 151.2L153.0 149.4L154.0 148.9L155.0 149.5L156.0 147.5L157.0 146.0L158.0 146.0L159.0 145.6L160.0 145.3L161.0 145.1L162.0 144.0L163.0 143.2L164.0 142.6L165.0 141.8L166.0 141.6L167.0 141.5L168.0 140.8L169.0 140.9L170.0 140.9L171.0 140.0L172.0 140.1L173.0 139.7L174.0 139.5L175.0 138.9L176.0 138.2L177.0 139.0L178.0 139.6L179.0 139.9L180.0 140.2L181.0 140.9L182.0 141.9L183.0 142.0L184.0 142.4L185.0 143.2L186.0 143.0L187.0 143.0L188.0 144.1L189.0 145.6L190.0 146.0L191.0 145.5L192.0 146.9L193.0 148.7L194.0 149.0L195.0 149.7L196.0 151.1L197.0 151.1L198.0 150.9L199.0 151.7L200.0 152.9L201.0 153.4L202.0 153.5L203.0 154.9L204.0 156.0L205.0 156.5L206.0 156.3L207.0 156.6L208.0 157.3L209.0 158.0L210.0 158.9L211.0 159.3L212.0 159.4L213.0 159.6L214.0 160.2L215.0 160.3L216.0 160.4L217.0 160.1L218.0 159.5L219.0 159.1L220.0 159.4L221.0 160.2L222.0 160.3L223.0 159.0L224.0 158.7L225.0 159.2L226.0 158.6L227.0 158.3L228.0 158.4L229.0 158.7L230.0 159.0L231.0 159.5L232.0 159.7L233.0 159.3L234.0 160.6L235.0 161.5L236.0 162.9L237.0 164.8L238.0 166.2L239.0 169.0L240.0 170.6L241.0 172.1L242.0 174.2L243.0 175.1L244.0 176.7L245.0 178.4L246.0 179.4L247.0 180.0L248.0 181.4L249.0 182.5L250.0 182.8L251.0 183.7L252.0 184.1L253.0 184.3L254.0 184.9L255.0 185.4L256.0 186.1L257.0 187.6L258.0 188.3L259.0 188.4L260.0 189.1L261.0 189.1L262.0 191.3L263.0 194.1L264.0 195.7L265.0 195.6L266.0 194.8L267.0 195.6L268.0 197.4L269.0 198.5L270.0 197.7L271.0 197.8L272.0 198.9L273.0 199.0L274.0 199.8L275.0 200.6L276.0 201.3L277.0 203.1L278.0 204.1L279.0 204.1L280.0 204.6L281.0 206.4L282.0 207.1L283.0 206.7L284.0 207.7L285.0 209.1L286.0 210.1L287.0 211.3L288.0 212.1L289.0 212.8L290.0 214.5L291.0 216.0L292.0 217.0L293.0 217.5L294.0 217.4L295.0 218.3L296.0 218.3L297.0 218.0L298.0 220.2L299.0 221.1L300.0 220.5L301.0 220.4L302.0 221.4L303.0 221.6L304.0 222.3L305.0 223.4L306.0 221.4L307.0 221.0L308.0 221.5L309.0 222.3L310.0 223.4L311.0 222.6L312.0 221.8L312.4 222.3" stroke="#ff0000" stroke-width="1.3" stroke-dasharray="2 15.6" stroke-dashoffset="-14.1" opacity="0.8"/>
<path d="M85.0 171.8L86.0 170.3L87.0 168.8L88.0 167.8L89.0 167.4L90.0 166.4L91.0 166.1L92.0 165.0L93.0 162.5L94.0 160.8L95.0 160.9L96.0 160.5L97.0 159.0L98.0 158.9L99.0 158.3L100.0 157.3L101.0 156.9L102.0 155.5L103.0 154.3L104.0 153.1L105.0 152.3L106.0 151.9L107.0 151.4L108.0 150.9L109.0 149.4L110.0 148.1L111.0 147.3L112.0 146.7L113.0 146.2L114.0 145.8L115.0 144.3L116.0 142.8L117.0 142.6L118.0 141.8L119.0 141.0L120.0 140.2L121.0 139.4L122.0 139.2L123.0 138.6L124.0 137.8L125.0 137.4L126.0 137.2L127.0 136.6L128.0 135.4L129.0 134.2L130.0 133.3L131.0 132.3L132.0 131.6L133.0 130.9L134.0 129.9L135.0 129.2L136.0 128.6L137.0 127.4L138.0 126.1L139.0 125.6L140.0 124.8L141.0 123.5L142.0 122.1L143.0 121.7L144.0 120.9L145.0 120.0L146.0 119.1L147.0 118.7L148.0 117.8L149.0 117.0L150.0 116.8L151.0 115.8L152.0 115.2L153.0 114.1L154.0 112.8L155.0 112.7L156.0 111.9L157.0 110.5L158.0 109.6L159.0 109.0L160.0 109.2L161.0 108.6L162.0 108.1L163.0 107.9L164.0 107.4L165.0 107.4L166.0 107.5L167.0 106.7L168.0 105.6L169.0 105.7L170.0 105.7L171.0 105.2L172.0 105.1L173.0 105.5L174.0 106.5L175.0 105.9L176.0 106.0L177.0 106.4L178.0 105.7L179.0 106.4L180.0 107.5L181.0 107.5L182.0 107.2L183.0 108.5L184.0 109.5L185.0 108.5L186.0 108.8L187.0 110.1L188.0 110.7L189.0 111.7L190.0 112.4L191.0 113.0L192.0 114.6L193.0 114.9L194.0 115.0L195.0 116.4L196.0 116.6L197.0 116.7L198.0 117.5L199.0 118.9L200.0 119.6L201.0 120.1L202.0 120.8L203.0 120.8L204.0 122.0L205.0 123.4L206.0 123.4L207.0 123.4L208.0 124.5L209.0 125.1L210.0 125.2L211.0 125.7L212.0 126.7L213.0 126.7L214.0 127.7L215.0 129.5L216.0 129.6L217.0 129.1L218.0 128.5L219.0 128.7L220.0 128.5L221.0 129.0L222.0 129.1L223.0 128.6L224.0 128.8L225.0 127.9L226.0 127.2L227.0 126.7L228.0 126.4L229.0 126.7L230.0 126.6L231.0 126.2L232.0 126.4L233.0 127.4L234.0 128.3L235.0 129.1L236.0 130.0L237.0 131.5L238.0 133.9L239.0 136.1L240.0 137.7L241.0 140.1L242.0 141.8L243.0 142.8L244.0 143.8L245.0 145.0L246.0 146.5L247.0 147.3L248.0 147.2L249.0 147.6L250.0 149.4L251.0 150.9L252.0 152.5L253.0 153.7L254.0 154.8L255.0 156.6L256.0 158.0L257.0 159.4L258.0 160.0L259.0 160.6L260.0 162.9L261.0 164.9L262.0 166.2L263.0 167.4L264.0 168.6L265.0 168.7L266.0 169.9L267.0 171.7L268.0 171.3L269.0 170.9L270.0 172.0L271.0 172.5L272.0 172.8L273.0 173.4L274.0 173.3L275.0 174.2L276.0 176.1L277.0 178.0L278.0 180.1L279.0 181.3L280.0 182.4L281.0 183.8L282.0 184.7L283.0 184.8L284.0 185.8L285.0 187.4L286.0 189.3L287.0 192.0L288.0 193.3L289.0 195.2L290.0 196.4L291.0 197.0L292.0 197.8L293.0 198.6L294.0 199.1L295.0 199.4L296.0 201.2L297.0 201.9L298.0 201.5L299.0 201.7L300.0 202.5L301.0 203.8L302.0 202.9L303.0 202.5L304.0 203.7L305.0 204.1L306.0 204.6L307.0 205.5L308.0 206.7L309.0 205.8L310.0 204.8L311.0 206.4L312.0 206.7L312.4 207.1" stroke="#ffbf00" stroke-width="3" stroke-dasharray="7.5 10.1" stroke-dashoffset="-2.5"/>
<path d="M85.0 171.8L86.0 170.3L87.0 168.8L88.0 167.8L89.0 167.4L90.0 166.4L91.0 166.1L92.0 165.0L93.0 162.5L94.0 160.8L95.0 160.9L96.0 160.5L97.0 159.0L98.0 158.9L99.0 158.3L100.0 157.3L101.0 156.9L102.0 155.5L103.0 154.3L104.0 153.1L105.0 152.3L106.0 151.9L107.0 151.4L108.0 150.9L109.0 149.4L110.0 148.1L111.0 147.3L112.0 146.7L113.0 146.2L114.0 145.8L115.0 144.3L116.0 142.8L117.0 142.6L118.0 141.8L119.0 141.0L120.0 140.2L121.0 139.4L122.0 139.2L123.0 138.6L124.0 137.8L125.0 137.4L126.0 137.2L127.0 136.6L128.0 135.4L129.0 134.2L130.0 133.3L131.0 132.3L132.0 131.6L133.0 130.9L134.0 129.9L135.0 129.2L136.0 128.6L137.0 127.4L138.0 126.1L139.0 125.6L140.0 124.8L141.0 123.5L142.0 122.1L143.0 121.7L144.0 120.9L145.0 120.0L146.0 119.1L147.0 118.7L148.0 117.8L149.0 117.0L150.0 116.8L151.0 115.8L152.0 115.2L153.0 114.1L154.0 112.8L155.0 112.7L156.0 111.9L157.0 110.5L158.0 109.6L159.0 109.0L160.0 109.2L161.0 108.6L162.0 108.1L163.0 107.9L164.0 107.4L165.0 107.4L166.0 107.5L167.0 106.7L168.0 105.6L169.0 105.7L170.0 105.7L171.0 105.2L172.0 105.1L173.0 105.5L174.0 106.5L175.0 105.9L176.0 106.0L177.0 106.4L178.0 105.7L179.0 106.4L180.0 107.5L181.0 107.5L182.0 107.2L183.0 108.5L184.0 109.5L185.0 108.5L186.0 108.8L187.0 110.1L188.0 110.7L189.0 111.7L190.0 112.4L191.0 113.0L192.0 114.6L193.0 114.9L194.0 115.0L195.0 116.4L196.0 116.6L197.0 116.7L198.0 117.5L199.0 118.9L200.0 119.6L201.0 120.1L202.0 120.8L203.0 120.8L204.0 122.0L205.0 123.4L206.0 123.4L207.0 123.4L208.0 124.5L209.0 125.1L210.0 125.2L211.0 125.7L212.0 126.7L213.0 126.7L214.0 127.7L215.0 129.5L216.0 129.6L217.0 129.1L218.0 128.5L219.0 128.7L220.0 128.5L221.0 129.0L222.0 129.1L223.0 128.6L224.0 128.8L225.0 127.9L226.0 127.2L227.0 126.7L228.0 126.4L229.0 126.7L230.0 126.6L231.0 126.2L232.0 126.4L233.0 127.4L234.0 128.3L235.0 129.1L236.0 130.0L237.0 131.5L238.0 133.9L239.0 136.1L240.0 137.7L241.0 140.1L242.0 141.8L243.0 142.8L244.0 143.8L245.0 145.0L246.0 146.5L247.0 147.3L248.0 147.2L249.0 147.6L250.0 149.4L251.0 150.9L252.0 152.5L253.0 153.7L254.0 154.8L255.0 156.6L256.0 158.0L257.0 159.4L258.0 160.0L259.0 160.6L260.0 162.9L261.0 164.9L262.0 166.2L263.0 167.4L264.0 168.6L265.0 168.7L266.0 169.9L267.0 171.7L268.0 171.3L269.0 170.9L270.0 172.0L271.0 172.5L272.0 172.8L273.0 173.4L274.0 173.3L275.0 174.2L276.0 176.1L277.0 178.0L278.0 180.1L279.0 181.3L280.0 182.4L281.0 183.8L282.0 184.7L283.0 184.8L284.0 185.8L285.0 187.4L286.0 189.3L287.0 192.0L288.0 193.3L289.0 195.2L290.0 196.4L291.0 197.0L292.0 197.8L293.0 198.6L294.0 199.1L295.0 199.4L296.0 201.2L297.0 201.9L298.0 201.5L299.0 201.7L300.0 202.5L301.0 203.8L302.0 202.9L303.0 202.5L304.0 203.7L305.0 204.1L306.0 204.6L307.0 205.5L308.0 206.7L309.0 205.8L310.0 204.8L311.0 206.4L312.0 206.7L312.4 207.1" stroke="#ffbf00" stroke-width="1.3" stroke-dasharray="2 15.6" stroke-dashoffset="-14.1" opacity="0.8"/>
<path d="M85.0 144.5L86.0 143.2L87.0 143.6L88.0 142.9L89.0 141.5L90.0 140.6L91.0 139.4L92.0 138.2L93.0 137.2L94.0 136.4L95.0 134.3L96.0 132.7L97.0 132.7L98.0 132.9L99.0 131.7L100.0 130.2L101.0 129.4L102.0 129.4L103.0 128.1L104.0 126.8L105.0 126.9L106.0 125.3L107.0 123.7L108.0 123.1L109.0 122.4L110.0 122.0L111.0 121.4L112.0 120.0L113.0 119.3L114.0 119.0L115.0 118.0L116.0 116.5L117.0 116.2L118.0 116.4L119.0 115.9L120.0 114.9L121.0 113.7L122.0 113.1L123.0 112.8L124.0 112.1L125.0 111.3L126.0 110.8L127.0 110.5L128.0 109.0L129.0 108.2L130.0 107.6L131.0 106.6L132.0 106.2L133.0 105.5L134.0 104.7L135.0 103.6L136.0 102.8L137.0 102.0L138.0 100.9L139.0 100.5L140.0 100.1L141.0 99.2L142.0 98.7L143.0 97.9L144.0 97.3L145.0 96.0L146.0 94.9L147.0 94.6L148.0 93.6L149.0 92.5L150.0 92.0L151.0 91.8L152.0 91.1L153.0 90.1L154.0 89.2L155.0 88.8L156.0 87.9L157.0 86.8L158.0 87.3L159.0 86.5L160.0 84.8L161.0 83.7L162.0 82.8L163.0 83.7L164.0 83.9L165.0 82.5L166.0 82.0L167.0 81.6L168.0 81.5L169.0 81.4L170.0 81.4L171.0 82.0L172.0 81.8L173.0 81.2L174.0 81.0L175.0 81.5L176.0 81.1L177.0 80.4L178.0 80.8L179.0 81.0L180.0 81.8L181.0 82.5L182.0 82.4L183.0 83.3L184.0 84.2L185.0 84.7L186.0 85.4L187.0 85.8L188.0 86.2L189.0 87.3L190.0 88.1L191.0 89.1L192.0 90.3L193.0 90.7L194.0 91.1L195.0 92.5L196.0 93.5L197.0 93.9L198.0 94.5L199.0 95.5L200.0 96.6L201.0 97.2L202.0 98.1L203.0 98.3L204.0 98.4L205.0 99.1L206.0 99.8L207.0 100.3L208.0 101.7L209.0 102.7L210.0 102.8L211.0 103.2L212.0 103.9L213.0 104.2L214.0 104.3L215.0 104.6L216.0 105.0L217.0 105.9L218.0 105.4L219.0 104.8L220.0 105.1L221.0 105.9L222.0 105.9L223.0 105.5L224.0 105.7L225.0 105.2L226.0 105.1L227.0 104.9L228.0 104.2L229.0 104.6L230.0 104.3L231.0 103.0L232.0 103.3L233.0 104.5L234.0 105.2L235.0 105.9L236.0 107.7L237.0 109.6L238.0 111.3L239.0 113.6L240.0 115.5L241.0 117.5L242.0 119.4L243.0 121.2L244.0 123.0L245.0 124.1L246.0 125.7L247.0 127.5L248.0 128.8L249.0 129.9L250.0 130.4L251.0 131.3L252.0 133.1L253.0 134.8L254.0 135.1L255.0 135.4L256.0 136.3L257.0 137.3L258.0 139.3L259.0 140.6L260.0 141.7L261.0 143.5L262.0 143.8L263.0 144.4L264.0 146.2L265.0 147.4L266.0 148.8L267.0 150.1L268.0 151.0L269.0 151.1L270.0 152.0L271.0 153.6L272.0 153.3L273.0 153.3L274.0 154.8L275.0 156.0L276.0 157.4L277.0 159.2L278.0 161.2L279.0 162.7L280.0 163.8L281.0 166.5L282.0 168.8L283.0 169.5L284.0 170.1L285.0 171.9L286.0 174.3L287.0 175.8L288.0 176.4L289.0 177.5L290.0 179.3L291.0 181.3L292.0 183.2L293.0 185.0L294.0 185.7L295.0 185.7L296.0 186.2L297.0 186.9L298.0 188.5L299.0 189.7L300.0 190.5L301.0 191.5L302.0 192.1L303.0 191.8L304.0 192.8L305.0 194.4L306.0 194.4L307.0 196.7L308.0 196.3L309.0 194.0L310.0 195.7L311.0 196.7L312.0 197.0L312.4 197.7" stroke="#80ff00" stroke-width="3" stroke-dasharray="7.5 10.1" stroke-dashoffset="-2.5"/>
<path d="M85.0 144.5L86.0 143.2L87.0 143.6L88.0 142.9L89.0 141.5L90.0 140.6L91.0 139.4L92.0 138.2L93.0 137.2L94.0 136.4L95.0 134.3L96.0 132.7L97.0 132.7L98.0 132.9L99.0 131.7L100.0 130.2L101.0 129.4L102.0 129.4L103.0 128.1L104.0 126.8L105.0 126.9L106.0 125.3L107.0 123.7L108.0 123.1L109.0 122.4L110.0 122.0L111.0 121.4L112.0 120.0L113.0 119.3L114.0 119.0L115.0 118.0L116.0 116.5L117.0 116.2L118.0 116.4L119.0 115.9L120.0 114.9L121.0 113.7L122.0 113.1L123.0 112.8L124.0 112.1L125.0 111.3L126.0 110.8L127.0 110.5L128.0 109.0L129.0 108.2L130.0 107.6L131.0 106.6L132.0 106.2L133.0 105.5L134.0 104.7L135.0 103.6L136.0 102.8L137.0 102.0L138.0 100.9L139.0 100.5L140.0 100.1L141.0 99.2L142.0 98.7L143.0 97.9L144.0 97.3L145.0 96.0L146.0 94.9L147.0 94.6L148.0 93.6L149.0 92.5L150.0 92.0L151.0 91.8L152.0 91.1L153.0 90.1L154.0 89.2L155.0 88.8L156.0 87.9L157.0 86.8L158.0 87.3L159.0 86.5L160.0 84.8L161.0 83.7L162.0 82.8L163.0 83.7L164.0 83.9L165.0 82.5L166.0 82.0L167.0 81.6L168.0 81.5L169.0 81.4L170.0 81.4L171.0 82.0L172.0 81.8L173.0 81.2L174.0 81.0L175.0 81.5L176.0 81.1L177.0 80.4L178.0 80.8L179.0 81.0L180.0 81.8L181.0 82.5L182.0 82.4L183.0 83.3L184.0 84.2L185.0 84.7L186.0 85.4L187.0 85.8L188.0 86.2L189.0 87.3L190.0 88.1L191.0 89.1L192.0 90.3L193.0 90.7L194.0 91.1L195.0 92.5L196.0 93.5L197.0 93.9L198.0 94.5L199.0 95.5L200.0 96.6L201.0 97.2L202.0 98.1L203.0 98.3L204.0 98.4L205.0 99.1L206.0 99.8L207.0 100.3L208.0 101.7L209.0 102.7L210.0 102.8L211.0 103.2L212.0 103.9L213.0 104.2L214.0 104.3L215.0 104.6L216.0 105.0L217.0 105.9L218.0 105.4L219.0 104.8L220.0 105.1L221.0 105.9L222.0 105.9L223.0 105.5L224.0 105.7L225.0 105.2L226.0 105.1L227.0 104.9L228.0 104.2L229.0 104.6L230.0 104.3L231.0 103.0L232.0 103.3L233.0 104.5L234.0 105.2L235.0 105.9L236.0 107.7L237.0 109.6L238.0 111.3L239.0 113.6L240.0 115.5L241.0 117.5L242.0 119.4L243.0 121.2L244.0 123.0L245.0 124.1L246.0 125.7L247.0 127.5L248.0 128.8L249.0 129.9L250.0 130.4L251.0 131.3L252.0 133.1L253.0 134.8L254.0 135.1L255.0 135.4L256.0 136.3L257.0 137.3L258.0 139.3L259.0 140.6L260.0 141.7L261.0 143.5L262.0 143.8L263.0 144.4L264.0 146.2L265.0 147.4L266.0 148.8L267.0 150.1L268.0 151.0L269.0 151.1L270.0 152.0L271.0 153.6L272.0 153.3L273.0 153.3L274.0 154.8L275.0 156.0L276.0 157.4L277.0 159.2L278.0 161.2L279.0 162.7L280.0 163.8L281.0 166.5L282.0 168.8L283.0 169.5L284.0 170.1L285.0 171.9L286.0 174.3L287.0 175.8L288.0 176.4L289.0 177.5L290.0 179.3L291.0 181.3L292.0 183.2L293.0 185.0L294.0 185.7L295.0 185.7L296.0 186.2L297.0 186.9L298.0 188.5L299.0 189.7L300.0 190.5L301.0 191.5L302.0 192.1L303.0 191.8L304.0 192.8L305.0 194.4L306.0 194.4L307.0 196.7L308.0 196.3L309.0 194.0L310.0 195.7L311.0 196.7L312.0 197.0L312.4 197.7" stroke="#80ff00" stroke-width="1.3" stroke-dasharray="2 15.6" stroke-dashoffset="-14.1" opacity="0.8"/>
</g>
<g stroke="#8a8a8a" stroke-width="1.2" fill="none"><rect x="84.6" y="30.5" width="410.1" height="315.0"/><path d="M175.7 345.5v-4M175.7 30.5v4M266.9 345.5v-4M266.9 30.5v4M358.0 345.5v-4M358.0 30.5v4M449.1 345.5v-4M449.1 30.5v4M84.6 93.5h4M494.7 93.5h-4M84.6 156.5h4M494.7 156.5h-4M84.6 219.5h4M494.7 219.5h-4M84.6 282.5h4M494.7 282.5h-4"/></g>
<rect x="388.6" y="36.4" width="99.8" height="140.9" fill="#fff" stroke="#808080" stroke-width="1" shape-rendering="crispEdges"/>
<path d="M396.5 47.0H435" stroke="#ff0000" stroke-width="3" fill="none"/>
<path d="M396.5 64.2H435" stroke="#ffbf00" stroke-width="3" fill="none"/>
<path d="M396.5 81.4H435" stroke="#80ff00" stroke-width="3" fill="none"/>
<path d="M396.5 98.6H435" stroke="#00ff40" stroke-width="3" fill="none"/>
<path d="M396.5 115.8H435" stroke="#00ffff" stroke-width="3" fill="none"/>
<path d="M396.5 133.0H435" stroke="#0040ff" stroke-width="3" fill="none"/>
<path d="M396.5 150.2H435" stroke="#8000ff" stroke-width="3" fill="none"/>
<path d="M396.5 167.4H435" stroke="#ff00bf" stroke-width="3" fill="none"/>
<g clip-path="url(#clipR)" fill="none" stroke-linejoin="round" stroke="#ff0000">
<path d="M608.3 197.1L608.8 198.1L609.3 199.9L609.8 203.3L610.3 205.3L610.8 204.6L611.3 203.6L611.8 202.2L612.3 201.0L612.8 200.0L613.3 199.3L613.8 198.4L614.3 197.6L614.8 196.6L615.3 195.6L615.8 194.5L616.3 193.5L616.8 192.7L617.3 191.9L617.8 191.0L618.3 190.2L618.8 189.3L619.3 188.5L619.8 187.4L620.3 186.6L620.8 185.7L621.3 184.9L621.8 184.1L622.3 183.4L622.8 182.5L623.3 181.8L623.8 180.9L624.3 180.1L624.8 179.0L625.3 178.2L625.8 177.7L626.3 176.9L626.8 176.3L627.3 175.5L627.8 174.8L628.3 174.1L628.8 173.3L629.3 172.8L629.8 171.9L630.3 171.2L630.8 170.4L631.3 169.8L631.8 169.1L632.3 168.3L632.8 167.8L633.3 167.4L633.8 166.8L634.3 166.0L634.8 165.2L635.3 164.6L635.8 164.1L636.3 163.6L636.8 163.0L637.3 162.3L637.8 161.9L638.3 161.1L638.8 160.6L639.3 159.9L639.8 159.4L640.3 159.0L640.8 158.2L641.3 157.5L641.8 156.7L642.3 156.3L642.8 155.6L643.3 155.0L643.8 154.5L644.3 153.9L644.8 153.3L645.3 152.5L645.8 151.7L646.3 150.8L646.8 149.7L647.3 149.0L647.8 148.3L648.3 147.6L648.8 146.6L649.3 145.8L649.8 145.0L650.3 144.3L650.8 143.6L651.3 142.7L651.8 141.9L652.3 141.0L652.8 140.3L653.3 139.3L653.8 138.5L654.3 137.6L654.8 137.3L655.3 136.8L655.8 136.6L656.3 136.2L656.8 135.9L657.3 135.4L657.8 134.7L658.3 133.9L658.8 133.0L659.3 132.0L659.8 130.9L660.3 129.8L660.8 128.6L661.3 127.4L661.8 126.1L662.3 124.9L662.8 123.8L663.3 122.9L663.8 122.1L664.3 121.4L664.8 120.6L665.3 119.7L665.8 118.7L666.3 117.9L666.8 117.3L667.3 116.4L667.8 115.5L668.3 114.6L668.8 113.8L669.3 113.0L669.8 112.1L670.3 111.3L670.8 110.4L671.3 109.6L671.8 108.5L672.3 107.7L672.8 106.9L673.3 106.5L673.8 105.9L674.3 105.3L674.8 104.6L675.3 104.2L675.8 103.7L676.3 103.6L676.8 103.1L677.3 102.8L677.8 102.2L678.3 101.8L678.8 101.4L679.3 101.1L679.8 100.4L680.3 99.9L680.8 99.4L681.3 98.9L681.8 98.5L682.3 98.1L682.8 97.8L683.3 97.6L683.8 97.2L684.3 96.8L684.8 96.2L685.3 96.0L685.8 95.7L686.3 95.4L686.8 95.2L687.3 94.8L687.8 94.4L688.3 93.9L688.8 93.7L689.3 93.6L689.8 93.6L690.3 93.4L690.8 93.1L691.3 92.6L691.8 92.4L692.3 92.3L692.8 92.0L693.3 92.0L693.8 91.6L694.3 91.5L694.8 91.2L695.3 90.9L695.8 90.8L696.3 90.6L696.8 90.7L697.3 90.6L697.8 90.2L698.3 90.0L698.8 89.7L699.3 89.7L699.8 89.5L700.3 89.6L700.8 89.6L701.3 89.6L701.8 89.4L702.3 89.5L702.8 89.4L703.3 89.2L703.8 89.0L704.3 89.0L704.8 88.9L705.3 88.8L705.8 88.7L706.3 88.7L706.8 88.8L707.3 88.8L707.8 89.0L708.3 89.1L708.8 89.3L709.3 89.6L709.8 89.9L710.3 90.2L710.8 90.2L711.3 90.7L711.8 91.2L712.3 91.9L712.8 92.1L713.3 92.8L713.8 93.1L714.3 93.6L714.8 93.8L715.3 94.3L715.8 94.7L716.3 95.2L716.8 95.8L717.3 96.4L717.8 96.9L718.3 97.3L718.8 97.8L719.3 98.3L719.8 99.0L720.3 99.7L720.8 100.2L721.3 100.5L721.8 100.9L722.3 101.5L722.8 102.2L723.3 102.7L723.8 103.3L724.3 104.0L724.8 104.3L725.3 104.9L725.8 105.3L726.3 105.9L726.8 106.4L727.3 106.7L727.8 107.0L728.3 107.2L728.8 107.3L729.3 107.5L729.8 107.4L730.3 107.4L730.8 107.5L731.3 107.8L731.8 108.1L732.3 108.0L732.8 108.0L733.3 108.3L733.8 109.0L734.3 109.5L734.8 109.9L735.3 110.4L735.8 111.0L736.3 111.3L736.8 111.6L737.3 111.5L737.8 111.4L738.3 111.1L738.8 110.9L739.3 110.5L739.8 110.2L740.3 110.3L740.8 110.0L741.3 109.8L741.8 109.3L742.3 109.2L742.8 109.2L743.3 108.9L743.8 108.3L744.3 108.0L744.8 107.8L745.3 107.6L745.8 107.3L746.3 106.9L746.8 106.6L747.3 106.3L747.8 106.5L748.3 106.2L748.8 106.1L749.3 105.5L749.8 105.0L750.3 104.4L750.8 103.6L751.3 102.9L751.8 102.3L752.3 101.7L752.8 101.0L753.3 100.6L753.8 100.2L754.3 100.3L754.8 100.1L755.3 100.1L755.8 100.1L756.3 100.2L756.8 100.5L757.3 100.7L757.8 101.3L758.3 102.0L758.8 102.6L759.3 103.2L759.8 103.8L760.3 104.8L760.8 105.6L761.3 106.4L761.8 107.0L762.3 107.8L762.8 108.5L763.3 109.2L763.8 109.9L764.3 110.3L764.8 110.8L765.3 111.4L765.8 112.0L766.3 112.4L766.8 112.8L767.3 113.0L767.8 113.5L768.3 113.9L768.8 114.4L769.3 114.8L769.8 115.2L770.3 115.4L770.8 115.6L771.3 115.8L771.8 116.1L772.3 116.3L772.8 116.6L773.3 116.6L773.8 117.0L774.3 117.3L774.8 117.4L775.3 117.6L775.8 117.6L776.3 117.5L776.8 117.3L777.3 117.1L777.8 116.9L778.3 116.6L778.8 116.3L779.3 116.1L779.8 115.8L780.3 115.7L780.8 115.5L781.3 115.4L781.8 115.2L782.3 115.1L782.8 115.1L783.3 115.1L783.8 115.5L784.3 116.0L784.8 116.4L785.3 116.5L785.8 116.6L786.3 116.8L786.8 116.9L787.3 116.9L787.8 116.8L788.3 116.8L788.8 116.5L789.3 116.0L789.8 115.3L790.3 114.6L790.8 113.7L791.3 113.0L791.8 112.1L792.3 111.5L792.8 110.7L793.3 110.0L793.8 109.3L794.3 108.7L794.8 108.1L795.3 107.7L795.8 107.4L796.3 107.0L796.8 106.6L797.3 106.2L797.8 106.0L798.3 105.7L798.8 105.4L799.3 105.0L799.8 104.7L800.3 104.6L800.8 104.6L801.3 104.4L801.8 104.3L802.3 104.4L802.8 104.4L803.3 104.6L803.8 104.9L804.3 105.0L804.8 105.0L805.3 105.1L805.8 105.4L806.3 105.6L806.8 105.8L807.3 106.0L807.8 106.1L808.3 106.2L808.8 106.2L809.3 106.3L809.8 106.3L810.3 106.3L810.8 106.3L811.3 106.5L811.8 106.8L812.3 106.7L812.8 106.6L813.3 106.5L813.8 106.7L814.3 106.7L814.8 106.7L815.3 106.5L815.8 106.3L816.3 106.2L816.8 105.9L817.3 105.9L817.8 105.3L818.3 104.8L818.8 104.1L819.3 103.5L819.8 103.0L820.3 102.5L820.8 101.9L821.3 101.5L821.8 100.7L822.3 99.8L822.8 98.8L823.3 98.1L823.8 97.1L824.3 96.1L824.8 95.0L825.3 94.0L825.8 93.0L826.3 92.2L826.8 91.4L827.3 90.9L827.8 90.3L828.3 90.0L828.8 89.6L829.3 89.4L829.8 89.1L830.3 88.8L830.8 88.3L831.3 88.1L831.8 87.6L832.3 87.5L832.8 87.3L833.3 87.3L833.8 87.1L834.3 86.7L834.8 86.5L835.3 86.3L835.8 86.3L836.3 86.4L836.8 86.6L837.3 86.6L837.8 86.6L838.3 86.7L838.8 87.0L839.3 87.3L839.8 87.7L840.3 88.1L840.8 88.5L841.3 89.0L841.8 89.4L842.3 89.8L842.8 90.2L843.3 90.8L843.8 91.4L844.3 92.1L844.8 92.7L845.3 93.4L845.8 94.1L846.3 94.8L846.8 95.5L847.3 96.2L847.8 97.0L848.3 97.9L848.8 98.5L849.3 99.1L849.8 99.7L850.3 100.2L850.8 100.7L851.3 101.2L851.8 101.7L852.3 102.1L852.8 102.3L853.3 102.6L853.8 103.1L854.3 103.5L854.8 103.7L855.3 104.0L855.8 104.4L856.3 104.7L856.8 105.0L857.3 105.2L857.8 105.4L858.3 105.4L858.8 105.4L859.3 105.3L859.8 105.1L860.3 104.8L860.8 104.1L861.3 103.4L861.8 102.4L862.3 101.5L862.8 100.5L863.3 99.5L863.8 98.4L864.3 97.3L864.8 96.5L865.3 95.8L865.8 95.1L866.3 94.2L866.8 93.2L867.3 92.5L867.8 91.8L868.3 91.1L868.8 90.3L869.3 89.8L869.8 89.1L870.3 88.7L870.8 88.1L871.3 87.8L871.8 87.5L872.3 87.2L872.8 87.4L873.3 87.7L873.8 87.9L874.3 88.1L874.8 88.3L875.3 88.5L875.8 88.2L876.3 87.9L876.8 87.4L877.3 87.0L877.8 86.6L878.3 85.9L878.8 85.1L879.3 84.3L879.8 83.6L880.3 82.8L880.8 82.0L881.3 81.2L881.8 80.4L882.3 79.5L882.8 78.2L883.3 76.8L883.8 75.4L884.3 74.0L884.8 72.8L885.3 71.4L885.8 70.2L886.3 69.1L886.8 68.0L887.3 66.9L887.8 66.2L888.3 65.7L888.8 65.2L889.3 64.8L889.8 64.5L890.3 64.6L890.8 64.7L891.3 65.0L891.8 65.0L892.3 65.0L892.8 65.0L893.3 65.3L893.8 65.6L894.3 65.9L894.8 66.2L895.3 66.8L895.8 67.5L896.3 68.0L896.8 68.9L897.3 69.5L897.8 70.2L898.3 70.6L898.8 71.2L899.3 71.9L899.8 72.7L900.3 73.5L900.8 74.0L901.3 74.8L901.8 75.3L902.3 76.0L902.8 76.3L903.3 76.8L903.8 77.1L904.3 77.7L904.8 78.0L905.3 78.4L905.8 78.9L906.3 79.6L906.8 80.4L907.3 81.3L907.8 82.3L908.3 83.4L908.8 84.5L909.3 85.6L909.8 86.7L910.3 87.8L910.8 89.1L911.3 90.2L911.8 91.6L912.3 92.8L912.8 93.9L913.3 94.9L913.8 95.9L914.3 97.3L914.8 98.7L915.3 100.0L915.8 101.2L916.3 102.2L916.8 103.4L917.3 104.7L917.8 106.1L918.3 107.3L918.8 108.5L919.3 109.6L919.8 110.6L920.3 111.6L920.8 112.4L921.3 113.3L921.8 114.2L922.3 115.0L922.8 115.7L923.3 116.4L923.8 117.5L924.3 118.5L924.8 119.4L925.3 120.2L925.8 121.1L926.3 122.1L926.8 122.9L927.3 123.7L927.8 124.7L928.3 125.8L928.8 127.0L929.3 128.4L929.8 130.0L930.3 131.8L930.8 133.7L931.3 135.9L931.8 138.4L932.3 140.8L932.8 143.2L933.3 145.6L933.8 148.0L934.3 150.5L934.8 152.9L935.3 155.3L935.8 157.7L936.3 160.1L936.8 162.3L937.3 164.5L937.8 166.6L938.3 168.7L938.8 171.0L939.3 173.4L939.8 176.0L940.3 178.5L940.8 181.0L941.3 183.7L941.8 186.3L942.3 189.1L942.8 191.8L943.3 194.6L943.8 197.3L944.3 200.3L944.8 203.2L945.3 206.3L945.8 209.2L946.3 212.3L946.8 215.3L947.3 218.1L947.8 220.7L948.3 223.2L948.8 226.0L949.3 228.6L949.8 231.1L950.3 233.4L950.8 235.9L951.3 238.1L951.8 240.2L952.3 242.2L952.8 244.1L953.3 246.0L953.8 248.0L954.3 250.3L954.8 252.4L955.3 254.4L955.8 256.2L956.3 258.1L956.8 260.2L957.3 262.0L957.8 264.0L958.3 265.6L958.8 267.3L959.3 268.7L959.8 270.0L960.3 271.6L960.8 272.8L961.3 274.4L961.8 275.7L962.3 276.7L962.8 277.6L963.3 279.1L963.8 280.5L964.3 280.9L964.8 281.9L965.3 283.3L965.8 284.5L966.3 285.8L966.8 287.0L967.3 287.8L967.8 288.4L968.3 289.4L968.8 290.1L969.3 290.8L969.8 292.2L970.3 294.1L970.8 294.9L971.3 295.5L971.8 296.5L972.3 297.4L972.8 298.1L973.3 298.5L973.8 298.4L974.3 298.6L974.8 299.8L975.3 300.2L975.8 299.7L976.3 299.2L976.8 300.4L977.3 301.4L977.8 302.3L978.3 304.1L978.8 303.9L979.3 304.0L979.8 305.6L980.3 306.9L980.8 308.0L981.3 309.5L981.8 310.3L982.3 310.1L982.8 309.3L983.3 309.1L983.8 309.8L984.3 308.8L984.8 308.9L985.3 307.7L985.8 306.5L986.3 309.2L986.8 312.0L987.3 312.6L987.8 315.0L988.3 316.8L988.8 316.8L989.3 316.6L989.8 316.9L990.3 315.8L990.8 315.2L991.3 316.5L991.8 316.6L992.3 315.2L992.8 315.5L993.3 315.2L993.8 315.0L994.3 315.0L994.8 313.7L995.3 313.5L995.8 313.6L996.3 312.5L996.8 313.2L997.3 314.0L997.8 313.9L998.3 313.1L998.8 311.6L999.3 311.4L999.8 311.9L1000.3 313.5L1000.8 315.8L1001.3 316.5L1001.8 316.6L1002.3 318.1L1002.8 319.2L1003.3 318.8L1003.8 319.1L1004.3 319.5L1004.8 321.1L1005.3 321.8L1005.8 321.6L1006.3 322.9L1006.8 322.9L1007.3 322.9L1007.8 322.2L1008.3 320.8L1008.8 321.6L1009.3 321.3L1009.8 319.2L1010.3 317.8L1010.8 317.4L1011.3 318.5L1011.8 319.7L1012.3 320.2L1012.8 321.0L1013.3 323.1L1013.8 324.8L1014.3 323.3L1014.8 323.6L1015.3 324.1L1015.8 324.3L1016.3 324.6L1016.8 324.5L1017.3 323.8L1017.8 321.8L1018.3 321.1L1018.8 319.6L1019.3 316.3L1019.8 313.5L1020.0 312.7" stroke-width="2.9"/>
<path d="M608 127.8H650.5" stroke-width="3" stroke-dasharray="8.3 7.2"/>
<path d="M650.5 127.8H1021" stroke-width="3" stroke-dasharray="8.3 7.2"/>
</g>
<g stroke="#8a8a8a" stroke-width="1.2" fill="none"><rect x="607.9" y="28.5" width="412.6" height="316.9"/><path d="M699.6 345.4v-4M699.6 28.5v4M791.3 345.4v-4M791.3 28.5v4M883.0 345.4v-4M883.0 28.5v4M974.7 345.4v-4M974.7 28.5v4M607.9 134.1h4M1020.5 134.1h-4M607.9 239.8h4M1020.5 239.8h-4"/></g>
<g font-family="'Liberation Sans', sans-serif" fill="#000">
<g font-size="22.8" text-anchor="middle" stroke="#000" stroke-width="0.3">
<text transform="translate(85.2 370.9) scale(1 1.05)">1200</text>
<text transform="translate(608.5 370.9) scale(1 1.05)">1200</text>
<text transform="translate(176.3 370.9) scale(1 1.05)">1300</text>
<text transform="translate(700.2 370.9) scale(1 1.05)">1300</text>
<text transform="translate(267.5 370.9) scale(1 1.05)">1400</text>
<text transform="translate(791.9 370.9) scale(1 1.05)">1400</text>
<text transform="translate(358.6 370.9) scale(1 1.05)">1500</text>
<text transform="translate(883.6 370.9) scale(1 1.05)">1500</text>
<text transform="translate(449.7 370.9) scale(1 1.05)">1600</text>
<text transform="translate(975.3 370.9) scale(1 1.05)">1600</text>
</g>
<g font-size="22.8" text-anchor="end" stroke="#000" stroke-width="0.3">
<text transform="translate(81.6 39.0) scale(1 1.05)">−30</text>
<text transform="translate(81.6 102.0) scale(1 1.05)">−35</text>
<text transform="translate(81.6 165.0) scale(1 1.05)">−40</text>
<text transform="translate(81.6 228.0) scale(1 1.05)">−45</text>
<text transform="translate(81.6 291.0) scale(1 1.05)">−50</text>
<text transform="translate(81.6 354.0) scale(1 1.05)">−55</text>
<text transform="translate(604.6 37.0) scale(1 1.05)">−30</text>
<text transform="translate(604.6 142.6) scale(1 1.05)">−35</text>
<text transform="translate(604.6 248.3) scale(1 1.05)">−40</text>
<text transform="translate(604.6 353.9) scale(1 1.05)">−45</text>
</g>
<g font-size="28.7" text-anchor="middle" stroke="#000" stroke-width="0.2">
<text x="289.8" y="398">λ (nm)</text>
<text x="814.5" y="398">λ (nm)</text>
<text transform="translate(29.6 188) rotate(-90)">On−chip spectrum (dBm/nm)</text>
<text transform="translate(552.8 187) rotate(-90)">On−chip spectrum (dBm/nm)</text>
</g>
<g font-size="14.2" text-anchor="middle">
<text x="461.5" y="51.9">50mA</text>
<text x="461.5" y="69.1">100mA</text>
<text x="461.5" y="86.3">150mA</text>
<text x="461.5" y="103.5">200mA</text>
<text x="461.5" y="120.7">250mA</text>
<text x="461.5" y="137.9">300mA</text>
<text x="461.5" y="155.1">350mA</text>
<text x="461.5" y="172.3">400mA</text>
</g>
</g>
<g font-family="'Liberation Serif', serif" font-size="31.5" text-anchor="middle" fill="#000">
<text x="252.9" y="443.1">(<tspan font-weight="bold">a</tspan>)</text>
<text x="777.5" y="443.1">(<tspan font-weight="bold">b</tspan>)</text>
</g>
</svg>
</body>
</html>
